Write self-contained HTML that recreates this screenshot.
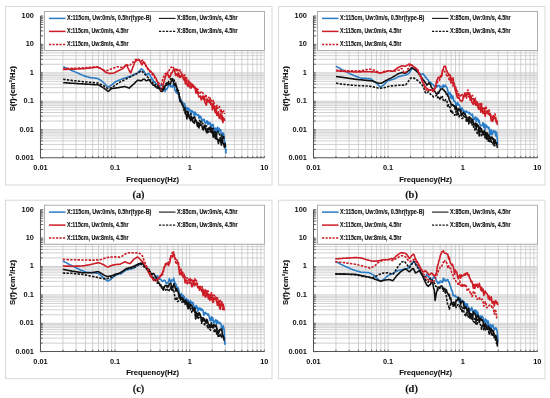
<!DOCTYPE html>
<html><head><meta charset="utf-8"><style>
html,body{margin:0;padding:0;background:#fff;}
svg{display:block;}
text{font-family:"Liberation Sans", Arial, sans-serif;fill:#111;stroke:#111;stroke-width:0.12px;}
.cap{font-family:"Liberation Serif", "Times New Roman", serif;}
</style></head><body>
<svg width="550" height="398" viewBox="0 0 550 398">
<g transform="translate(0,0)">
<rect x="5.5" y="6.5" width="266.5" height="178.5" fill="#fff" stroke="#d9d9d9" stroke-width="1"/>
<path d="M62.96 16.00V158.00M76.09 16.00V158.00M85.41 16.00V158.00M92.64 16.00V158.00M98.55 16.00V158.00M103.54 16.00V158.00M107.87 16.00V158.00M111.69 16.00V158.00M115.10 16.00V158.00M137.56 16.00V158.00M150.69 16.00V158.00M160.01 16.00V158.00M167.24 16.00V158.00M173.15 16.00V158.00M178.14 16.00V158.00M182.47 16.00V158.00M186.29 16.00V158.00M189.70 16.00V158.00M212.16 16.00V158.00M225.29 16.00V158.00M234.61 16.00V158.00M241.84 16.00V158.00M247.75 16.00V158.00M252.74 16.00V158.00M257.07 16.00V158.00M260.89 16.00V158.00M40.50 149.45H264.30M40.50 144.45H264.30M40.50 140.90H264.30M40.50 138.15H264.30M40.50 135.90H264.30M40.50 134.00H264.30M40.50 132.35H264.30M40.50 130.90H264.30M40.50 129.60H264.30M40.50 121.05H264.30M40.50 116.05H264.30M40.50 112.50H264.30M40.50 109.75H264.30M40.50 107.50H264.30M40.50 105.60H264.30M40.50 103.95H264.30M40.50 102.50H264.30M40.50 101.20H264.30M40.50 92.65H264.30M40.50 87.65H264.30M40.50 84.10H264.30M40.50 81.35H264.30M40.50 79.10H264.30M40.50 77.20H264.30M40.50 75.55H264.30M40.50 74.10H264.30M40.50 72.80H264.30M40.50 64.25H264.30M40.50 59.25H264.30M40.50 55.70H264.30M40.50 52.95H264.30M40.50 50.70H264.30M40.50 48.80H264.30M40.50 47.15H264.30M40.50 45.70H264.30M40.50 44.40H264.30M40.50 35.85H264.30M40.50 30.85H264.30M40.50 27.30H264.30M40.50 24.55H264.30M40.50 22.30H264.30M40.50 20.40H264.30M40.50 18.75H264.30M40.50 17.30H264.30M40.50 16.00H264.30M264.30 16.00V158.00" stroke="#cccccc" stroke-width="0.9" fill="none"/>
<path d="M40.50 158.00v-2M62.96 158.00v-2M76.09 158.00v-2M85.41 158.00v-2M92.64 158.00v-2M98.55 158.00v-2M103.54 158.00v-2M107.87 158.00v-2M111.69 158.00v-2M115.10 158.00v-2M137.56 158.00v-2M150.69 158.00v-2M160.01 158.00v-2M167.24 158.00v-2M173.15 158.00v-2M178.14 158.00v-2M182.47 158.00v-2M186.29 158.00v-2M189.70 158.00v-2M212.16 158.00v-2M225.29 158.00v-2M234.61 158.00v-2M241.84 158.00v-2M247.75 158.00v-2M252.74 158.00v-2M257.07 158.00v-2M260.89 158.00v-2M264.30 158.00v-2M40.50 158.00h2.2M40.50 149.45h2.2M40.50 144.45h2.2M40.50 140.90h2.2M40.50 138.15h2.2M40.50 135.90h2.2M40.50 134.00h2.2M40.50 132.35h2.2M40.50 130.90h2.2M40.50 129.60h2.2M40.50 121.05h2.2M40.50 116.05h2.2M40.50 112.50h2.2M40.50 109.75h2.2M40.50 107.50h2.2M40.50 105.60h2.2M40.50 103.95h2.2M40.50 102.50h2.2M40.50 101.20h2.2M40.50 92.65h2.2M40.50 87.65h2.2M40.50 84.10h2.2M40.50 81.35h2.2M40.50 79.10h2.2M40.50 77.20h2.2M40.50 75.55h2.2M40.50 74.10h2.2M40.50 72.80h2.2M40.50 64.25h2.2M40.50 59.25h2.2M40.50 55.70h2.2M40.50 52.95h2.2M40.50 50.70h2.2M40.50 48.80h2.2M40.50 47.15h2.2M40.50 45.70h2.2M40.50 44.40h2.2M40.50 35.85h2.2M40.50 30.85h2.2M40.50 27.30h2.2M40.50 24.55h2.2M40.50 22.30h2.2M40.50 20.40h2.2M40.50 18.75h2.2M40.50 17.30h2.2M40.50 16.00h2.2" stroke="#505050" stroke-width="0.9" fill="none"/>
<path d="M40.50 16.00V157.70H264.30" stroke="#555" stroke-width="1.05" fill="none" stroke-linejoin="round"/>
<path d="M63.2 66.9 64.0 67.0 64.7 67.4 65.5 67.7 66.2 68.1 67.0 68.4 67.7 68.8 68.5 69.1 69.2 69.5 70.0 69.8 70.7 70.1 71.5 70.4 72.2 70.7 73.0 71.0 73.7 71.3 74.5 71.6 75.2 71.9 76.0 72.2 76.7 72.5 77.5 72.8 78.2 73.2 79.0 73.5 79.7 73.9 80.5 74.2 81.2 74.5 82.0 74.9 82.7 75.2 83.5 75.6 84.2 75.9 85.0 76.1 85.7 76.4 86.5 76.6 87.2 76.8 88.0 77.0 88.7 77.2 89.5 77.5 90.2 77.6 91.0 77.7 91.7 77.8 92.5 77.9 93.2 78.0 94.0 78.0 94.7 78.1 95.5 78.2 96.2 78.3 97.0 78.4 97.7 78.6 98.5 79.0 99.2 79.4 100.0 79.7 100.7 80.3 101.5 80.9 102.2 81.6 103.0 82.2 103.7 82.8 104.5 83.5 105.2 84.2 106.0 85.0 106.7 85.7 107.5 86.5 108.2 87.0 109.0 86.6 109.7 86.1 110.5 85.7 111.2 85.2 112.0 84.7 112.7 84.1 113.5 83.5 114.2 82.9 115.0 82.2 115.7 81.6 116.5 81.2 117.2 80.9 118.0 80.6 118.7 80.3 119.5 80.0 120.2 79.7 121.0 79.4 121.7 79.1 122.5 78.8 123.2 78.5 124.0 78.2 124.7 78.0 125.5 77.8 126.2 77.5 127.0 77.3 127.7 77.1 128.4 76.9 129.2 76.6 129.9 76.4 130.7 76.2 131.4 75.8 132.2 75.4 132.9 75.0 133.7 74.7 134.4 74.3 135.2 74.0 135.9 73.8 136.7 73.5 137.4 73.3 138.2 72.5 138.9 71.6 139.7 70.7 140.4 69.8 141.2 68.9 141.9 69.3 142.7 69.9 143.4 70.4 144.2 71.4 144.9 72.6 145.7 73.9 146.4 75.1 147.2 74.5 147.9 73.9 148.7 73.4 149.4 74.2 150.2 75.2 150.9 77.2 151.7 78.2 152.4 79.7 153.2 80.0 153.9 81.9 154.7 81.9 155.4 82.8 156.2 84.1 156.9 84.4 157.7 84.8 158.4 86.7 159.2 85.8 159.9 85.1 160.7 85.5 161.4 84.5 162.2 85.0 162.9 87.5 163.7 89.2 164.4 90.3 165.2 91.4 165.9 88.9 166.7 89.2 167.4 88.2 168.2 86.0 168.9 83.6 169.7 84.1 170.4 86.8 171.2 85.9 171.9 86.2 172.7 87.2 173.4 83.7 174.2 84.7 174.9 90.2 175.7 91.3 176.4 92.9 177.2 91.5 177.9 94.1 178.7 94.2 179.4 98.5 180.2 101.0 180.9 99.3 181.7 103.1 182.4 101.5 183.2 103.8 183.9 104.8 184.7 103.6 185.4 108.1 186.2 109.4 186.9 107.3 187.7 110.5 188.4 108.2 189.2 108.8 189.9 111.0 190.7 110.0 191.4 114.2 192.2 110.9 192.9 111.9 193.7 112.1 194.4 117.1 195.2 112.0 195.9 114.6 196.7 114.1 197.4 115.1 198.2 114.6 198.9 118.4 199.7 115.6 200.4 117.8 201.2 117.0 201.9 121.2 202.7 120.8 203.4 119.5 204.2 119.3 204.9 122.5 205.7 123.5 206.4 121.5 207.2 120.8 207.9 124.6 208.7 122.1 209.4 123.9 210.2 122.9 210.9 128.3 211.7 124.5 212.4 126.0 213.2 124.4 213.9 130.6 214.7 129.3 215.4 128.2 216.2 132.3 216.9 128.3 217.7 127.1 218.4 133.5 219.2 128.4 219.9 131.0 220.7 129.6 221.4 134.6 222.2 136.3 222.9 132.7 223.7 133.7 224.4 141.4 225.2 145.5 225.9 153.1 226.0 149.0" stroke="#2b7cc6" stroke-width="1.6" fill="none" stroke-linejoin="round"/>
<path d="M63.2 82.7 64.0 82.7 64.7 82.8 65.5 82.8 66.2 82.9 67.0 82.9 67.7 83.0 68.5 83.0 69.2 83.1 70.0 83.1 70.7 83.2 71.5 83.2 72.2 83.3 73.0 83.3 73.7 83.3 74.5 83.4 75.2 83.4 76.0 83.5 76.7 83.5 77.5 83.6 78.2 83.6 79.0 83.7 79.7 83.7 80.5 83.8 81.2 83.8 82.0 83.9 82.7 83.9 83.5 84.0 84.2 84.0 85.0 84.0 85.7 84.1 86.5 84.1 87.2 84.2 88.0 84.2 88.7 84.3 89.5 84.3 90.2 84.4 91.0 84.4 91.7 84.5 92.5 84.5 93.2 84.6 94.0 84.6 94.7 84.7 95.5 84.7 96.2 84.8 97.0 84.8 97.7 84.8 98.5 84.9 99.2 85.3 100.0 85.7 100.7 86.2 101.5 86.6 102.2 87.1 103.0 87.6 103.7 88.0 104.5 88.5 105.2 89.1 106.0 89.7 106.7 90.3 107.5 91.0 108.2 91.4 109.0 90.8 109.7 90.2 110.5 89.5 111.2 88.9 112.0 88.5 112.7 88.4 113.5 88.3 114.2 88.2 115.0 88.1 115.7 88.0 116.5 87.9 117.2 87.8 118.0 87.7 118.7 87.6 119.5 87.4 120.2 87.3 121.0 87.1 121.7 87.0 122.5 86.9 123.2 86.7 124.0 86.6 124.7 86.4 125.5 86.7 126.2 86.9 127.0 87.2 127.7 87.5 128.4 87.8 129.2 88.1 129.9 87.4 130.7 86.7 131.4 86.1 132.2 85.4 132.9 84.7 133.7 84.1 134.4 83.4 135.2 82.6 135.9 81.8 136.7 81.1 137.4 80.3 138.2 80.2 138.9 80.4 139.7 80.5 140.4 80.6 141.2 80.8 141.9 80.3 142.7 79.7 143.4 79.2 144.2 79.2 144.9 79.7 145.7 80.3 146.4 80.8 147.2 80.4 147.9 80.0 148.7 79.6 149.4 80.3 150.2 81.2 150.9 82.5 151.7 83.3 152.4 84.1 153.2 85.2 153.9 85.3 154.7 85.8 155.4 86.6 156.2 86.7 156.9 88.0 157.7 87.8 158.4 88.5 159.2 88.6 159.9 89.3 160.7 91.1 161.4 91.2 162.2 91.5 162.9 90.9 163.7 89.0 164.4 88.5 165.2 85.7 165.9 85.1 166.7 85.2 167.4 82.9 168.2 84.3 168.9 83.4 169.7 83.6 170.4 84.1 171.2 81.1 171.9 79.9 172.7 80.1 173.4 81.9 174.2 85.0 174.9 84.0 175.7 84.1 176.4 87.1 177.2 88.5 177.9 92.0 178.7 92.7 179.4 96.6 180.2 101.7 180.9 101.8 181.7 103.0 182.4 105.4 183.2 105.9 183.9 107.6 184.7 108.4 185.4 113.7 186.2 114.8 186.9 118.9 187.7 112.0 188.4 114.6 189.2 117.8 189.9 118.3 190.7 120.7 191.4 117.9 192.2 117.5 192.9 121.8 193.7 122.7 194.4 123.2 195.2 118.9 195.9 121.4 196.7 121.4 197.4 126.5 198.2 122.5 198.9 128.0 199.7 123.4 200.4 125.4 201.2 124.9 201.9 125.7 202.7 129.4 203.4 130.0 204.2 126.0 204.9 127.3 205.7 129.6 206.4 132.1 207.2 132.8 207.9 129.1 208.7 128.1 209.4 129.7 210.2 128.3 210.9 131.2 211.7 130.0 212.4 131.4 213.2 137.2 213.9 133.3 214.7 135.7 215.4 138.7 216.2 132.8 216.9 139.5 217.7 139.4 218.4 143.5 219.2 139.2 219.9 140.0 220.7 141.5 221.4 145.2 222.2 137.1 222.9 142.9 223.7 144.4 224.4 147.4 225.2 143.3 225.5 147.0" stroke="#111111" stroke-width="1.6" fill="none" stroke-linejoin="round"/>
<path d="M63.2 69.5 64.0 69.5 64.7 69.4 65.5 69.4 66.2 69.4 67.0 69.4 67.7 69.3 68.5 69.3 69.2 69.3 70.0 69.3 70.7 69.2 71.5 69.2 72.2 69.2 73.0 69.1 73.7 69.1 74.5 69.1 75.2 69.1 76.0 69.0 76.7 69.0 77.5 69.0 78.2 68.9 79.0 68.9 79.7 68.9 80.5 68.9 81.2 68.8 82.0 68.8 82.7 68.7 83.5 68.6 84.2 68.6 85.0 68.5 85.7 68.4 86.5 68.3 87.2 68.3 88.0 68.2 88.7 68.1 89.5 68.0 90.2 67.9 91.0 67.9 91.7 67.8 92.5 67.7 93.2 67.6 94.0 67.5 94.7 67.5 95.5 67.4 96.2 67.3 97.0 67.2 97.7 67.4 98.5 67.6 99.2 67.9 100.0 68.1 100.7 68.4 101.5 68.9 102.2 69.5 103.0 70.1 103.7 70.7 104.5 71.3 105.2 71.9 106.0 72.5 106.7 72.7 107.5 72.9 108.2 73.1 109.0 73.2 109.7 73.4 110.5 73.4 111.2 73.3 112.0 73.3 112.7 73.2 113.5 73.1 114.2 72.9 115.0 72.5 115.7 72.1 116.5 71.7 117.2 71.3 118.0 70.9 118.7 70.6 119.5 70.2 120.2 69.8 121.0 69.4 121.7 69.1 122.5 68.7 123.2 68.3 124.0 67.5 124.7 66.5 125.5 65.6 126.2 64.6 127.0 65.8 127.7 67.3 128.4 68.8 129.2 70.4 129.9 71.9 130.7 73.0 131.4 71.1 132.2 69.1 132.9 67.1 133.7 65.1 134.4 63.1 135.2 61.5 135.9 61.0 136.7 60.5 137.4 60.1 138.2 59.8 138.9 59.6 139.7 60.5 140.4 62.0 141.2 63.5 141.9 64.9 142.7 63.3 143.4 61.7 144.2 62.5 144.9 63.5 145.7 65.0 146.4 66.4 147.2 67.6 147.9 68.5 148.7 69.5 149.4 70.4 150.2 70.9 150.9 71.6 151.7 72.5 152.4 73.3 153.2 73.7 153.9 74.9 154.7 76.5 155.4 77.7 156.2 78.5 156.9 81.0 157.7 82.4 158.4 85.5 159.2 85.8 159.9 88.1 160.7 89.6 161.4 89.9 162.2 88.3 162.9 86.4 163.7 82.8 164.4 80.6 165.2 77.6 165.9 75.4 166.7 73.4 167.4 74.6 168.2 74.7 168.9 77.6 169.7 75.9 170.4 76.3 171.2 72.7 171.9 73.1 172.7 71.2 173.4 69.9 174.2 69.5 174.9 71.9 175.7 75.5 176.4 75.2 177.2 73.5 177.9 76.2 178.7 73.4 179.4 77.3 180.2 77.4 180.9 75.5 181.7 75.2 182.4 77.2 183.2 77.9 183.9 80.0 184.7 79.2 185.4 83.9 186.2 80.3 186.9 84.4 187.7 86.1 188.4 83.2 189.2 86.6 189.9 87.3 190.7 88.1 191.4 85.5 192.2 85.3 192.9 87.0 193.7 85.9 194.4 88.0 195.2 87.5 195.9 92.9 196.7 88.6 197.4 91.4 198.2 94.8 198.9 96.9 199.7 97.0 200.4 95.9 201.2 99.9 201.9 97.0 202.7 96.0 203.4 99.6 204.2 97.0 204.9 101.9 205.7 103.9 206.4 105.2 207.2 99.0 207.9 101.8 208.7 100.3 209.4 102.8 210.2 101.7 210.9 104.5 211.7 103.5 212.4 109.8 213.2 103.8 213.9 106.4 214.7 110.5 215.4 112.9 216.2 107.2 216.9 115.5 217.7 114.9 218.4 111.7 219.2 118.4 219.9 117.7 220.7 113.4 221.4 119.6 222.2 115.6 222.9 122.6 223.7 117.8 224.4 119.6 224.5 121.0" stroke="#cc1c26" stroke-width="1.6" fill="none" stroke-linejoin="round"/>
<path d="M63.2 79.3 64.0 79.4 64.7 79.5 65.5 79.6 66.2 79.7 67.0 79.8 67.7 79.9 68.5 80.0 69.2 80.1 70.0 80.2 70.7 80.3 71.5 80.4 72.2 80.5 73.0 80.6 73.7 80.7 74.5 80.7 75.2 80.8 76.0 80.9 76.7 81.0 77.5 81.1 78.2 81.1 79.0 81.2 79.7 81.3 80.5 81.4 81.2 81.5 82.0 81.5 82.7 81.6 83.5 81.7 84.2 81.8 85.0 81.8 85.7 81.9 86.5 82.0 87.2 82.0 88.0 82.1 88.7 82.2 89.5 82.3 90.2 82.3 91.0 82.4 91.7 82.5 92.5 82.6 93.2 82.6 94.0 82.7 94.7 82.8 95.5 82.9 96.2 83.0 97.0 83.0 97.7 83.1 98.5 83.2 99.2 83.6 100.0 84.0 100.7 84.3 101.5 84.7 102.2 85.1 103.0 85.5 103.7 85.8 104.5 86.3 105.2 86.8 106.0 87.2 106.7 87.7 107.5 88.2 108.2 88.6 109.0 88.7 109.7 88.3 110.5 88.0 111.2 87.6 112.0 87.2 112.7 86.8 113.5 86.4 114.2 85.9 115.0 85.4 115.7 84.9 116.5 84.4 117.2 83.9 118.0 83.4 118.7 82.9 119.5 82.4 120.2 81.9 121.0 81.5 121.7 81.2 122.5 80.8 123.2 80.4 124.0 80.1 124.7 79.7 125.5 79.3 126.2 78.9 127.0 78.6 127.7 78.2 128.4 77.8 129.2 77.4 129.9 77.1 130.7 76.7 131.4 76.3 132.2 75.9 132.9 75.5 133.7 75.2 134.4 74.8 135.2 74.4 135.9 74.0 136.7 73.7 137.4 73.3 138.2 72.9 138.9 72.5 139.7 71.9 140.4 71.3 141.2 70.8 141.9 71.3 142.7 72.1 143.4 72.8 144.2 73.6 144.9 74.3 145.7 75.1 146.4 75.8 147.2 76.6 147.9 77.3 148.7 78.1 149.4 78.9 150.2 80.0 150.9 80.5 151.7 81.1 152.4 82.1 153.2 83.4 153.9 83.4 154.7 83.7 155.4 85.1 156.2 85.6 156.9 85.4 157.7 85.6 158.4 87.3 159.2 86.5 159.9 88.4 160.7 87.7 161.4 88.7 162.2 89.3 162.9 89.4 163.7 88.6 164.4 86.3 165.2 84.6 165.9 83.9 166.7 82.6 167.4 82.2 168.2 82.6 168.9 81.2 169.7 80.4 170.4 79.4 171.2 77.7 171.9 78.7 172.7 78.9 173.4 80.9 174.2 80.0 174.9 85.7 175.7 83.0 176.4 86.2 177.2 91.7 177.9 90.2 178.7 90.9 179.4 96.5 180.2 100.2 180.9 101.7 181.7 101.9 182.4 104.2 183.2 105.3 183.9 110.4 184.7 107.6 185.4 114.0 186.2 109.9 186.9 115.6 187.7 110.5 188.4 112.7 189.2 116.0 189.9 118.6 190.7 113.5 191.4 117.9 192.2 120.5 192.9 120.7 193.7 116.1 194.4 117.7 195.2 117.8 195.9 121.0 196.7 121.9 197.4 125.0 198.2 125.3 198.9 121.9 199.7 120.3 200.4 123.0 201.2 121.6 201.9 123.7 202.7 123.2 203.4 124.5 204.2 127.3 204.9 125.1 205.7 129.7 206.4 125.9 207.2 129.7 207.9 131.5 208.7 132.1 209.4 130.0 210.2 126.2 210.9 132.2 211.7 127.3 212.4 134.2 213.2 128.4 213.9 131.3 214.7 135.9 215.4 131.8 216.2 136.2 216.9 132.5 217.7 131.2 218.4 133.1 219.2 133.2 219.9 135.1 220.7 140.6 221.4 136.1 222.2 134.9 222.9 138.4 223.7 136.7 224.0 139.5" stroke="#111111" stroke-width="1.6" fill="none" stroke-linejoin="round" stroke-dasharray="2.4 1.3"/>
<path d="M63.2 69.1 64.0 68.6 64.7 68.6 65.5 68.5 66.2 68.5 67.0 68.5 67.7 68.5 68.5 68.4 69.2 68.4 70.0 68.4 70.7 68.4 71.5 68.3 72.2 68.3 73.0 68.3 73.7 68.3 74.5 68.2 75.2 68.2 76.0 68.2 76.7 68.2 77.5 68.1 78.2 68.1 79.0 68.1 79.7 68.1 80.5 68.0 81.2 68.0 82.0 68.0 82.7 67.9 83.5 67.9 84.2 67.8 85.0 67.7 85.7 67.7 86.5 67.6 87.2 67.6 88.0 67.5 88.7 67.4 89.5 67.4 90.2 67.3 91.0 67.2 91.7 67.2 92.5 67.1 93.2 67.0 94.0 67.0 94.7 66.9 95.5 66.8 96.2 66.8 97.0 66.7 97.7 67.0 98.5 67.3 99.2 67.7 100.0 68.1 100.7 68.5 101.5 68.8 102.2 69.2 103.0 69.6 103.7 70.0 104.5 70.4 105.2 70.7 106.0 71.1 106.7 70.8 107.5 70.5 108.2 70.2 109.0 69.9 109.7 69.6 110.5 69.3 111.2 69.0 112.0 68.7 112.7 68.4 113.5 68.1 114.2 67.9 115.0 67.6 115.7 67.3 116.5 67.1 117.2 66.8 118.0 66.8 118.7 66.9 119.5 67.0 120.2 67.1 121.0 67.2 121.7 67.3 122.5 67.4 123.2 67.5 124.0 66.9 124.7 66.2 125.5 65.4 126.2 64.6 127.0 64.8 127.7 65.2 128.4 65.6 129.2 66.0 129.9 65.2 130.7 64.5 131.4 63.8 132.2 63.0 132.9 62.3 133.7 61.5 134.4 60.8 135.2 60.0 135.9 59.4 136.7 59.2 137.4 58.9 138.2 59.2 138.9 59.9 139.7 60.7 140.4 61.4 141.2 61.2 141.9 60.7 142.7 60.2 143.4 61.5 144.2 62.9 144.9 64.2 145.7 65.5 146.4 66.8 147.2 68.1 147.9 69.5 148.7 70.4 149.4 71.2 150.2 71.7 150.9 72.6 151.7 73.8 152.4 74.5 153.2 75.1 153.9 76.4 154.7 77.4 155.4 79.2 156.2 79.6 156.9 80.8 157.7 82.3 158.4 83.1 159.2 83.2 159.9 84.2 160.7 84.3 161.4 84.4 162.2 81.3 162.9 78.8 163.7 76.9 164.4 75.5 165.2 73.6 165.9 73.5 166.7 74.0 167.4 74.1 168.2 71.0 168.9 71.4 169.7 68.7 170.4 68.4 171.2 67.1 171.9 67.3 172.7 66.5 173.4 67.6 174.2 70.6 174.9 68.5 175.7 68.0 176.4 71.7 177.2 68.3 177.9 70.2 178.7 73.8 179.4 70.7 180.2 69.8 180.9 72.3 181.7 75.2 182.4 73.1 183.2 78.0 183.9 78.9 184.7 74.9 185.4 80.6 186.2 77.1 186.9 78.8 187.7 78.6 188.4 83.8 189.2 80.7 189.9 86.3 190.7 81.7 191.4 87.8 192.2 83.1 192.9 85.3 193.7 85.6 194.4 87.8 195.2 87.0 195.9 92.9 196.7 92.7 197.4 89.3 198.2 89.7 198.9 94.0 199.7 93.7 200.4 92.6 201.2 92.0 201.9 93.2 202.7 92.7 203.4 94.5 204.2 99.4 204.9 99.8 205.7 94.3 206.4 97.0 207.2 100.9 207.9 102.1 208.7 97.2 209.4 101.7 210.2 98.0 210.9 99.9 211.7 104.5 212.4 103.3 213.2 100.3 213.9 102.0 214.7 107.4 215.4 107.9 216.2 106.8 216.9 105.3 217.7 108.3 218.4 106.9 219.2 106.4 219.9 108.1 220.7 112.5 221.4 109.7 222.2 113.4 222.9 111.9 223.7 110.9 224.4 113.3 224.5 114.0" stroke="#cc1c26" stroke-width="1.6" fill="none" stroke-linejoin="round" stroke-dasharray="2.4 1.3"/>
<rect x="44.5" y="11.5" width="220" height="39" fill="#fff" stroke="#a6a6a6" stroke-width="0.9"/>
<path d="M49 18.4h16.5" stroke="#2b7cc6" stroke-width="1.5"/>
<text x="67.1" y="20.299999999999997" font-size="6.4" font-weight="bold" textLength="84.3" lengthAdjust="spacingAndGlyphs">X:115cm, Uw:0m/s, 0.5hr(type-B)</text>
<path d="M49 31.4h16.5" stroke="#cc1c26" stroke-width="1.5"/>
<text x="67.1" y="33.3" font-size="6.4" font-weight="bold" textLength="61.5" lengthAdjust="spacingAndGlyphs">X:115cm, Uw:0m/s, 4.5hr</text>
<path d="M49 44.4h16.5" stroke="#cc1c26" stroke-width="1.5" stroke-dasharray="2.2 1.3"/>
<text x="67.1" y="46.3" font-size="6.4" font-weight="bold" textLength="61.5" lengthAdjust="spacingAndGlyphs">X:115cm, Uw:8m/s, 4.5hr</text>
<path d="M159 18.4h16.5" stroke="#111" stroke-width="1.1"/>
<text x="177.1" y="20.299999999999997" font-size="6.4" font-weight="bold" textLength="60.6" lengthAdjust="spacingAndGlyphs">X:85cm, Uw:0m/s, 4.5hr</text>
<path d="M159 31.4h16.5" stroke="#111" stroke-width="1.1" stroke-dasharray="2.2 1.3"/>
<text x="177.1" y="33.3" font-size="6.4" font-weight="bold" textLength="60.6" lengthAdjust="spacingAndGlyphs">X:85cm, Uw:8m/s, 4.5hr</text>
<text x="33.9" y="160.00" font-size="7.4" font-weight="bold" style="stroke:none" text-anchor="end">0.001</text>
<text x="33.9" y="131.60" font-size="7.4" font-weight="bold" style="stroke:none" text-anchor="end">0.01</text>
<text x="33.9" y="103.20" font-size="7.4" font-weight="bold" style="stroke:none" text-anchor="end">0.1</text>
<text x="33.9" y="74.80" font-size="7.4" font-weight="bold" style="stroke:none" text-anchor="end">1</text>
<text x="33.9" y="46.40" font-size="7.4" font-weight="bold" style="stroke:none" text-anchor="end">10</text>
<text x="33.9" y="18.00" font-size="7.4" font-weight="bold" style="stroke:none" text-anchor="end">100</text>
<text x="40.50" y="170.4" font-size="7.4" font-weight="bold" style="stroke:none" text-anchor="middle">0.01</text>
<text x="115.10" y="170.4" font-size="7.4" font-weight="bold" style="stroke:none" text-anchor="middle">0.1</text>
<text x="189.70" y="170.4" font-size="7.4" font-weight="bold" style="stroke:none" text-anchor="middle">1</text>
<text x="264.30" y="170.4" font-size="7.4" font-weight="bold" style="stroke:none" text-anchor="middle">10</text>
<text x="152.6" y="181.5" font-size="7.9" font-weight="bold" text-anchor="middle" textLength="52.8" lengthAdjust="spacingAndGlyphs">Frequency(Hz)</text>
<text transform="translate(15,88.7) rotate(-90)" font-size="7.6" font-weight="bold" text-anchor="middle" textLength="45" lengthAdjust="spacingAndGlyphs">S(f)·(cm²/Hz)</text>
<text class="cap" x="138.5" y="198.2" font-size="10.4" font-weight="bold" text-anchor="middle">(a)</text>
</g>
<g transform="translate(273.0,0)">
<rect x="5.5" y="6.5" width="266.5" height="178.5" fill="#fff" stroke="#d9d9d9" stroke-width="1"/>
<path d="M62.96 16.00V158.00M76.09 16.00V158.00M85.41 16.00V158.00M92.64 16.00V158.00M98.55 16.00V158.00M103.54 16.00V158.00M107.87 16.00V158.00M111.69 16.00V158.00M115.10 16.00V158.00M137.56 16.00V158.00M150.69 16.00V158.00M160.01 16.00V158.00M167.24 16.00V158.00M173.15 16.00V158.00M178.14 16.00V158.00M182.47 16.00V158.00M186.29 16.00V158.00M189.70 16.00V158.00M212.16 16.00V158.00M225.29 16.00V158.00M234.61 16.00V158.00M241.84 16.00V158.00M247.75 16.00V158.00M252.74 16.00V158.00M257.07 16.00V158.00M260.89 16.00V158.00M40.50 149.45H264.30M40.50 144.45H264.30M40.50 140.90H264.30M40.50 138.15H264.30M40.50 135.90H264.30M40.50 134.00H264.30M40.50 132.35H264.30M40.50 130.90H264.30M40.50 129.60H264.30M40.50 121.05H264.30M40.50 116.05H264.30M40.50 112.50H264.30M40.50 109.75H264.30M40.50 107.50H264.30M40.50 105.60H264.30M40.50 103.95H264.30M40.50 102.50H264.30M40.50 101.20H264.30M40.50 92.65H264.30M40.50 87.65H264.30M40.50 84.10H264.30M40.50 81.35H264.30M40.50 79.10H264.30M40.50 77.20H264.30M40.50 75.55H264.30M40.50 74.10H264.30M40.50 72.80H264.30M40.50 64.25H264.30M40.50 59.25H264.30M40.50 55.70H264.30M40.50 52.95H264.30M40.50 50.70H264.30M40.50 48.80H264.30M40.50 47.15H264.30M40.50 45.70H264.30M40.50 44.40H264.30M40.50 35.85H264.30M40.50 30.85H264.30M40.50 27.30H264.30M40.50 24.55H264.30M40.50 22.30H264.30M40.50 20.40H264.30M40.50 18.75H264.30M40.50 17.30H264.30M40.50 16.00H264.30M264.30 16.00V158.00" stroke="#cccccc" stroke-width="0.9" fill="none"/>
<path d="M40.50 158.00v-2M62.96 158.00v-2M76.09 158.00v-2M85.41 158.00v-2M92.64 158.00v-2M98.55 158.00v-2M103.54 158.00v-2M107.87 158.00v-2M111.69 158.00v-2M115.10 158.00v-2M137.56 158.00v-2M150.69 158.00v-2M160.01 158.00v-2M167.24 158.00v-2M173.15 158.00v-2M178.14 158.00v-2M182.47 158.00v-2M186.29 158.00v-2M189.70 158.00v-2M212.16 158.00v-2M225.29 158.00v-2M234.61 158.00v-2M241.84 158.00v-2M247.75 158.00v-2M252.74 158.00v-2M257.07 158.00v-2M260.89 158.00v-2M264.30 158.00v-2M40.50 158.00h2.2M40.50 149.45h2.2M40.50 144.45h2.2M40.50 140.90h2.2M40.50 138.15h2.2M40.50 135.90h2.2M40.50 134.00h2.2M40.50 132.35h2.2M40.50 130.90h2.2M40.50 129.60h2.2M40.50 121.05h2.2M40.50 116.05h2.2M40.50 112.50h2.2M40.50 109.75h2.2M40.50 107.50h2.2M40.50 105.60h2.2M40.50 103.95h2.2M40.50 102.50h2.2M40.50 101.20h2.2M40.50 92.65h2.2M40.50 87.65h2.2M40.50 84.10h2.2M40.50 81.35h2.2M40.50 79.10h2.2M40.50 77.20h2.2M40.50 75.55h2.2M40.50 74.10h2.2M40.50 72.80h2.2M40.50 64.25h2.2M40.50 59.25h2.2M40.50 55.70h2.2M40.50 52.95h2.2M40.50 50.70h2.2M40.50 48.80h2.2M40.50 47.15h2.2M40.50 45.70h2.2M40.50 44.40h2.2M40.50 35.85h2.2M40.50 30.85h2.2M40.50 27.30h2.2M40.50 24.55h2.2M40.50 22.30h2.2M40.50 20.40h2.2M40.50 18.75h2.2M40.50 17.30h2.2M40.50 16.00h2.2" stroke="#505050" stroke-width="0.9" fill="none"/>
<path d="M40.50 16.00V157.70H264.30" stroke="#555" stroke-width="1.05" fill="none" stroke-linejoin="round"/>
<path d="M63.0 66.3 63.8 66.7 64.5 67.1 65.2 67.5 66.0 67.9 66.8 68.3 67.5 68.7 68.2 69.1 69.0 69.6 69.8 70.0 70.5 70.4 71.2 70.8 72.0 71.2 72.8 71.5 73.5 71.9 74.2 72.3 75.0 72.7 75.8 73.0 76.5 73.4 77.2 73.8 78.0 74.2 78.8 74.5 79.5 74.9 80.2 75.3 81.0 75.6 81.8 75.8 82.5 76.1 83.2 76.4 84.0 76.7 84.8 76.9 85.5 77.2 86.2 77.5 87.0 77.8 87.8 78.0 88.5 78.2 89.2 78.3 90.0 78.3 90.8 78.3 91.5 78.4 92.2 78.4 93.0 78.5 93.8 78.5 94.5 78.5 95.2 78.6 96.0 78.6 96.8 78.7 97.5 78.8 98.2 79.3 99.0 79.8 99.8 80.4 100.5 80.9 101.2 81.5 102.0 82.1 102.8 82.7 103.5 83.3 104.2 84.0 105.0 84.7 105.8 85.5 106.5 86.2 107.2 87.0 108.0 86.9 108.8 86.3 109.5 85.8 110.2 85.3 111.0 84.7 111.8 83.8 112.5 83.0 113.2 82.1 114.0 81.2 114.8 80.8 115.5 80.6 116.2 80.4 117.0 80.2 117.8 79.9 118.5 79.7 119.2 79.5 120.0 79.5 120.8 79.1 121.5 78.7 122.2 78.4 123.0 78.0 123.8 77.6 124.5 77.2 125.2 76.8 126.0 76.5 126.8 76.2 127.5 76.1 128.2 75.9 129.0 75.8 129.8 75.6 130.5 75.5 131.2 75.3 132.0 75.2 132.8 75.0 133.5 74.6 134.2 74.2 135.0 73.9 135.8 73.5 136.5 72.8 137.2 71.5 138.0 70.2 138.8 68.9 139.5 68.6 140.2 68.5 141.0 68.3 141.8 68.6 142.5 69.4 143.2 70.2 144.0 70.9 144.8 71.7 145.5 72.4 146.2 73.2 147.0 73.9 147.8 74.5 148.5 74.2 149.2 74.0 150.0 73.7 150.8 75.0 151.5 75.4 152.2 77.2 153.0 77.4 153.8 78.9 154.5 79.3 155.2 80.2 156.0 81.7 156.8 82.1 157.5 82.2 158.2 83.0 159.0 84.2 159.8 84.5 160.5 84.9 161.2 86.2 162.0 86.5 162.8 87.3 163.5 87.5 164.2 85.8 165.0 86.0 165.8 85.5 166.5 85.6 167.2 88.5 168.0 86.7 168.8 86.4 169.5 87.0 170.2 85.1 171.0 87.1 171.8 85.8 172.5 85.2 173.2 86.9 174.0 87.5 174.8 90.3 175.5 94.7 176.2 93.1 177.0 92.4 177.8 98.2 178.5 94.8 179.2 98.8 180.0 96.0 180.8 101.0 181.5 101.2 182.2 101.7 183.0 105.6 183.8 104.9 184.5 102.5 185.2 104.9 186.0 104.6 186.8 106.2 187.5 110.4 188.2 111.6 189.0 107.9 189.8 109.6 190.5 112.4 191.2 110.9 192.0 114.6 192.8 111.4 193.5 111.0 194.2 112.4 195.0 112.2 195.8 113.4 196.5 112.3 197.2 114.3 198.0 114.2 198.8 115.2 199.5 114.1 200.2 119.2 201.0 119.7 201.8 117.8 202.5 116.8 203.2 121.7 204.0 118.0 204.8 118.7 205.5 122.2 206.2 120.3 207.0 124.7 207.8 125.7 208.5 125.7 209.2 125.4 210.0 122.5 210.8 127.4 211.5 124.1 212.2 129.3 213.0 124.8 213.8 127.0 214.5 126.3 215.2 128.3 216.0 127.3 216.8 133.7 217.5 134.5 218.2 129.6 219.0 134.8 219.8 133.4 220.5 130.5 221.2 131.8 222.0 131.2 222.8 136.0 223.5 132.0 224.2 138.0 224.6 145.0" stroke="#2b7cc6" stroke-width="1.6" fill="none" stroke-linejoin="round"/>
<path d="M63.0 76.5 63.8 76.6 64.5 76.7 65.2 76.8 66.0 76.9 66.8 77.0 67.5 77.1 68.2 77.2 69.0 77.3 69.8 77.4 70.5 77.5 71.2 77.6 72.0 77.7 72.8 77.8 73.5 77.9 74.2 78.0 75.0 78.2 75.8 78.3 76.5 78.4 77.2 78.5 78.0 78.6 78.8 78.7 79.5 78.8 80.2 78.9 81.0 79.1 81.8 79.2 82.5 79.3 83.2 79.4 84.0 79.4 84.8 79.5 85.5 79.6 86.2 79.7 87.0 79.7 87.8 79.8 88.5 79.9 89.2 79.9 90.0 80.0 90.8 80.1 91.5 80.2 92.2 80.2 93.0 80.3 93.8 80.4 94.5 80.5 95.2 80.5 96.0 80.6 96.8 80.7 97.5 80.8 98.2 80.9 99.0 80.9 99.8 81.1 100.5 81.4 101.2 81.7 102.0 82.0 102.8 82.3 103.5 82.5 104.2 82.8 105.0 83.1 105.8 83.2 106.5 83.2 107.2 83.2 108.0 83.2 108.8 83.1 109.5 82.6 110.2 82.2 111.0 81.7 111.8 81.2 112.5 80.8 113.2 80.3 114.0 80.0 114.8 79.6 115.5 79.2 116.2 78.8 117.0 78.5 117.8 78.1 118.5 77.7 119.2 77.4 120.0 77.0 120.8 76.5 121.5 76.0 122.2 75.6 123.0 75.1 123.8 74.6 124.5 74.1 125.2 73.7 126.0 73.5 126.8 73.2 127.5 73.0 128.2 72.8 129.0 72.6 129.8 72.8 130.5 72.9 131.2 73.0 132.0 73.1 132.8 73.0 133.5 72.4 134.2 71.8 135.0 71.2 135.8 70.5 136.5 69.9 137.2 69.2 138.0 68.4 138.8 67.7 139.5 68.1 140.2 68.6 141.0 69.2 141.8 69.8 142.5 70.4 143.2 71.0 144.0 71.7 144.8 72.3 145.5 73.2 146.2 74.3 147.0 75.4 147.8 76.5 148.5 77.5 149.2 78.5 150.0 79.9 150.8 80.5 151.5 81.3 152.2 82.5 153.0 83.5 153.8 85.3 154.5 84.3 155.2 84.1 156.0 82.6 156.8 84.0 157.5 84.3 158.2 87.0 159.0 88.1 159.8 88.5 160.5 90.2 161.2 90.6 162.0 91.5 162.8 93.1 163.5 93.8 164.2 94.2 165.0 92.2 165.8 93.1 166.5 90.6 167.2 90.4 168.0 89.0 168.8 88.8 169.5 88.6 170.2 90.0 171.0 90.1 171.8 91.6 172.5 91.6 173.2 93.9 174.0 93.9 174.8 96.2 175.5 96.3 176.2 99.8 177.0 101.1 177.8 103.1 178.5 105.7 179.2 104.6 180.0 104.7 180.8 106.1 181.5 105.8 182.2 109.7 183.0 106.3 183.8 109.1 184.5 113.0 185.2 109.1 186.0 108.8 186.8 110.7 187.5 109.7 188.2 115.4 189.0 114.9 189.8 112.8 190.5 112.3 191.2 113.8 192.0 114.0 192.8 115.4 193.5 118.5 194.2 119.4 195.0 119.6 195.8 120.0 196.5 116.8 197.2 118.2 198.0 118.4 198.8 122.6 199.5 119.5 200.2 121.8 201.0 125.4 201.8 123.9 202.5 123.1 203.2 128.2 204.0 123.9 204.8 126.6 205.5 125.4 206.2 136.0 207.0 127.2 207.8 128.7 208.5 128.8 209.2 132.5 210.0 133.8 210.8 131.8 211.5 130.5 212.2 137.9 213.0 132.3 213.8 139.3 214.5 133.1 215.2 136.2 216.0 135.2 216.8 137.0 217.5 141.0 218.2 137.3 219.0 137.0 219.8 139.3 220.5 138.7 221.2 145.8 222.0 139.7 222.8 143.5 223.5 142.7 224.2 146.9 224.5 148.0" stroke="#111111" stroke-width="1.6" fill="none" stroke-linejoin="round"/>
<path d="M63.0 70.8 63.8 70.9 64.5 70.9 65.2 71.0 66.0 71.0 66.8 71.1 67.5 71.1 68.2 71.2 69.0 71.2 69.8 71.3 70.5 71.3 71.2 71.4 72.0 71.4 72.8 71.5 73.5 71.5 74.2 71.6 75.0 71.6 75.8 71.6 76.5 71.7 77.2 71.7 78.0 71.8 78.8 71.8 79.5 71.8 80.2 71.9 81.0 71.9 81.8 72.0 82.5 72.0 83.2 72.0 84.0 72.0 84.8 71.9 85.5 71.9 86.2 71.9 87.0 71.9 87.8 71.9 88.5 71.8 89.2 71.8 90.0 71.8 90.8 71.8 91.5 71.8 92.2 71.7 93.0 71.7 93.8 71.7 94.5 71.7 95.2 71.8 96.0 71.8 96.8 71.8 97.5 71.8 98.2 71.9 99.0 71.9 99.8 71.9 100.5 72.0 101.2 72.0 102.0 72.0 102.8 72.2 103.5 72.3 104.2 72.5 105.0 72.6 105.8 72.8 106.5 72.9 107.2 73.1 108.0 73.0 108.8 72.8 109.5 72.6 110.2 72.4 111.0 72.2 111.8 72.1 112.5 71.8 113.2 71.5 114.0 71.1 114.8 70.8 115.5 70.8 116.2 70.8 117.0 70.9 117.8 71.0 118.5 71.1 119.2 71.2 120.0 71.3 120.8 70.7 121.5 70.2 122.2 69.6 123.0 69.1 123.8 68.5 124.5 68.0 125.2 67.5 126.0 67.1 126.8 66.7 127.5 66.4 128.2 66.0 129.0 65.7 129.8 65.9 130.5 66.0 131.2 66.1 132.0 66.2 132.8 66.1 133.5 65.6 134.2 65.1 135.0 64.7 135.8 64.2 136.5 63.9 137.2 64.4 138.0 64.9 138.8 65.4 139.5 65.9 140.2 66.4 141.0 66.9 141.8 67.4 142.5 67.9 143.2 68.4 144.0 69.2 144.8 70.7 145.5 72.2 146.2 73.7 147.0 75.5 147.8 77.3 148.5 79.1 149.2 80.8 150.0 82.1 150.8 84.1 151.5 85.6 152.2 86.9 153.0 87.8 153.8 88.5 154.5 88.8 155.2 89.4 156.0 90.3 156.8 89.8 157.5 89.9 158.2 90.0 159.0 89.9 159.8 90.8 160.5 89.8 161.2 90.1 162.0 88.5 162.8 85.4 163.5 81.3 164.2 80.0 165.0 77.9 165.8 77.2 166.5 77.8 167.2 77.1 168.0 77.0 168.8 75.5 169.5 70.7 170.2 69.4 171.0 66.3 171.8 66.3 172.5 66.2 173.2 69.6 174.0 71.2 174.8 73.2 175.5 73.4 176.2 75.3 177.0 74.8 177.8 77.1 178.5 80.7 179.2 79.2 180.0 77.9 180.8 85.2 181.5 85.4 182.2 90.5 183.0 92.6 183.8 96.1 184.5 97.9 185.2 98.1 186.0 96.9 186.8 99.9 187.5 100.9 188.2 100.5 189.0 101.5 189.8 99.8 190.5 95.3 191.2 96.7 192.0 94.2 192.8 94.9 193.5 98.2 194.2 94.1 195.0 92.7 195.8 94.5 196.5 94.6 197.2 100.2 198.0 95.7 198.8 102.4 199.5 103.0 200.2 104.5 201.0 99.9 201.8 101.5 202.5 105.0 203.2 103.2 204.0 103.1 204.8 105.9 205.5 109.2 206.2 108.8 207.0 106.5 207.8 112.5 208.5 107.1 209.2 108.6 210.0 113.5 210.8 112.9 211.5 110.3 212.2 116.3 213.0 111.4 213.8 113.0 214.5 111.2 215.2 114.1 216.0 112.9 216.8 115.5 217.5 114.1 218.2 120.9 219.0 120.2 219.8 121.3 220.5 115.5 221.2 118.4 222.0 117.3 222.8 120.9 223.5 120.1 224.2 123.9 224.5 125.0" stroke="#cc1c26" stroke-width="1.6" fill="none" stroke-linejoin="round"/>
<path d="M63.0 83.2 63.8 83.3 64.5 83.4 65.2 83.5 66.0 83.6 66.8 83.7 67.5 83.9 68.2 84.0 69.0 84.1 69.8 84.2 70.5 84.3 71.2 84.4 72.0 84.5 72.8 84.5 73.5 84.6 74.2 84.7 75.0 84.8 75.8 84.8 76.5 84.9 77.2 85.0 78.0 85.1 78.8 85.1 79.5 85.2 80.2 85.3 81.0 85.3 81.8 85.4 82.5 85.5 83.2 85.5 84.0 85.6 84.8 85.6 85.5 85.6 86.2 85.7 87.0 85.7 87.8 85.7 88.5 85.8 89.2 85.8 90.0 85.8 90.8 85.9 91.5 85.9 92.2 85.9 93.0 86.0 93.8 86.0 94.5 86.0 95.2 86.1 96.0 86.1 96.8 86.2 97.5 86.4 98.2 86.5 99.0 86.7 99.8 86.8 100.5 86.9 101.2 87.1 102.0 87.2 102.8 87.4 103.5 87.6 104.2 87.8 105.0 88.0 105.8 88.2 106.5 88.3 107.2 88.2 108.0 88.1 108.8 88.0 109.5 87.9 110.2 87.9 111.0 87.7 111.8 87.5 112.5 87.3 113.2 87.1 114.0 86.8 114.8 86.6 115.5 86.4 116.2 86.2 117.0 86.1 117.8 86.0 118.5 85.9 119.2 85.9 120.0 85.8 120.8 85.7 121.5 85.7 122.2 85.6 123.0 85.5 123.8 85.4 124.5 85.4 125.2 85.3 126.0 85.2 126.8 85.2 127.5 85.1 128.2 85.1 129.0 85.1 129.8 85.1 130.5 85.1 131.2 85.1 132.0 85.1 132.8 84.8 133.5 83.8 134.2 82.8 135.0 81.8 135.8 80.8 136.5 79.8 137.2 78.8 138.0 77.9 138.8 77.7 139.5 77.9 140.2 78.0 141.0 78.1 141.8 78.5 142.5 79.0 143.2 79.5 144.0 80.0 144.8 80.5 145.5 81.1 146.2 81.9 147.0 82.6 147.8 83.4 148.5 84.4 149.2 85.3 150.0 86.1 150.8 88.0 151.5 89.7 152.2 92.3 153.0 93.0 153.8 92.3 154.5 92.5 155.2 91.7 156.0 92.1 156.8 92.8 157.5 94.4 158.2 94.9 159.0 95.9 159.8 96.0 160.5 96.9 161.2 96.6 162.0 96.1 162.8 95.7 163.5 95.3 164.2 97.4 165.0 96.9 165.8 99.0 166.5 98.1 167.2 99.8 168.0 97.1 168.8 98.4 169.5 96.5 170.2 100.2 171.0 101.3 171.8 101.3 172.5 99.7 173.2 101.3 174.0 101.4 174.8 107.3 175.5 104.8 176.2 106.7 177.0 106.9 177.8 111.6 178.5 113.0 179.2 110.4 180.0 113.9 180.8 113.9 181.5 115.2 182.2 114.6 183.0 111.3 183.8 116.0 184.5 112.2 185.2 113.5 186.0 116.9 186.8 114.9 187.5 114.4 188.2 114.9 189.0 118.5 189.8 118.2 190.5 115.2 191.2 117.7 192.0 116.7 192.8 117.9 193.5 122.3 194.2 119.3 195.0 117.3 195.8 123.9 196.5 118.4 197.2 122.8 198.0 123.3 198.8 121.6 199.5 126.7 200.2 126.5 201.0 127.5 201.8 129.9 202.5 125.6 203.2 127.6 204.0 133.1 204.8 133.4 205.5 129.1 206.2 130.3 207.0 129.0 207.8 131.3 208.5 136.9 209.2 133.1 210.0 131.3 210.8 134.7 211.5 132.6 212.2 137.5 213.0 135.0 213.8 136.2 214.5 135.8 215.2 141.3 216.0 137.4 216.8 141.6 217.5 138.0 218.2 140.7 219.0 143.9 219.8 144.0 220.5 140.8 221.2 143.2 222.0 142.1 222.8 145.7 223.0 146.0" stroke="#111111" stroke-width="1.6" fill="none" stroke-linejoin="round" stroke-dasharray="2.4 1.3"/>
<path d="M63.0 70.3 63.8 70.3 64.5 70.4 65.2 70.4 66.0 70.4 66.8 70.4 67.5 70.5 68.2 70.5 69.0 70.5 69.8 70.5 70.5 70.6 71.2 70.6 72.0 70.6 72.8 70.6 73.5 70.7 74.2 70.7 75.0 70.7 75.8 70.8 76.5 70.8 77.2 70.8 78.0 70.8 78.8 70.8 79.5 70.8 80.2 70.8 81.0 70.8 81.8 70.8 82.5 70.8 83.2 70.8 84.0 70.8 84.8 70.8 85.5 70.8 86.2 70.8 87.0 70.8 87.8 70.8 88.5 70.7 89.2 70.6 90.0 70.4 90.8 70.3 91.5 70.1 92.2 69.9 93.0 69.8 93.8 69.6 94.5 69.5 95.2 69.3 96.0 69.1 96.8 69.2 97.5 69.3 98.2 69.5 99.0 69.6 99.8 69.8 100.5 70.1 101.2 70.3 102.0 70.6 102.8 70.9 103.5 71.2 104.2 71.5 105.0 71.9 105.8 72.2 106.5 72.6 107.2 73.0 108.0 72.8 108.8 72.5 109.5 72.1 110.2 71.7 111.0 71.4 111.8 71.3 112.5 71.2 113.2 71.2 114.0 71.1 114.8 71.0 115.5 71.0 116.2 71.1 117.0 71.1 117.8 71.2 118.5 71.2 119.2 71.3 120.0 71.3 120.8 71.2 121.5 71.0 122.2 70.9 123.0 70.7 123.8 70.6 124.5 70.4 125.2 70.3 126.0 70.2 126.8 69.8 127.5 69.2 128.2 68.6 129.0 68.6 129.8 70.1 130.5 71.6 131.2 73.1 132.0 72.7 132.8 72.1 133.5 71.5 134.2 70.4 135.0 68.9 135.8 67.5 136.5 66.0 137.2 64.5 138.0 64.2 138.8 65.0 139.5 65.8 140.2 66.5 141.0 67.3 141.8 67.9 142.5 68.4 143.2 68.9 144.0 69.4 144.8 69.9 145.5 71.1 146.2 73.0 147.0 74.8 147.8 76.7 148.5 78.6 149.2 80.5 150.0 82.8 150.8 84.4 151.5 86.6 152.2 89.5 153.0 90.0 153.8 90.1 154.5 90.9 155.2 90.1 156.0 89.9 156.8 90.2 157.5 90.1 158.2 90.7 159.0 90.5 159.8 91.2 160.5 91.4 161.2 89.1 162.0 87.5 162.8 86.8 163.5 84.4 164.2 83.0 165.0 81.2 165.8 81.1 166.5 80.0 167.2 78.2 168.0 74.4 168.8 75.0 169.5 70.6 170.2 69.9 171.0 69.8 171.8 71.9 172.5 72.3 173.2 73.5 174.0 76.8 174.8 75.7 175.5 75.7 176.2 80.5 177.0 77.5 177.8 82.9 178.5 78.8 179.2 81.2 180.0 86.1 180.8 82.9 181.5 84.2 182.2 89.5 183.0 87.2 183.8 92.5 184.5 91.2 185.2 96.5 186.0 93.9 186.8 95.4 187.5 95.4 188.2 96.8 189.0 94.5 189.8 95.5 190.5 97.4 191.2 95.2 192.0 92.2 192.8 93.7 193.5 92.0 194.2 91.7 195.0 89.8 195.8 97.0 196.5 91.9 197.2 97.2 198.0 99.9 198.8 99.1 199.5 95.4 200.2 97.5 201.0 102.6 201.8 99.2 202.5 98.2 203.2 105.5 204.0 100.8 204.8 105.1 205.5 107.0 206.2 103.3 207.0 102.7 207.8 109.0 208.5 103.5 209.2 106.7 210.0 109.0 210.8 110.0 211.5 106.8 212.2 109.1 213.0 107.1 213.8 110.1 214.5 113.3 215.2 110.9 216.0 109.3 216.8 112.5 217.5 114.8 218.2 118.3 219.0 116.1 219.8 119.8 220.5 117.1 221.2 117.6 222.0 113.9 222.8 117.6 223.5 123.6 224.2 120.3 224.5 121.0" stroke="#cc1c26" stroke-width="1.6" fill="none" stroke-linejoin="round" stroke-dasharray="2.4 1.3"/>
<rect x="44.5" y="11.5" width="220" height="39" fill="#fff" stroke="#a6a6a6" stroke-width="0.9"/>
<path d="M49 18.4h16.5" stroke="#2b7cc6" stroke-width="1.5"/>
<text x="67.1" y="20.299999999999997" font-size="6.4" font-weight="bold" textLength="84.3" lengthAdjust="spacingAndGlyphs">X:115cm, Uw:0m/s, 0.5hr(type-B)</text>
<path d="M49 31.4h16.5" stroke="#cc1c26" stroke-width="1.5"/>
<text x="67.1" y="33.3" font-size="6.4" font-weight="bold" textLength="61.5" lengthAdjust="spacingAndGlyphs">X:115cm, Uw:0m/s, 4.5hr</text>
<path d="M49 44.4h16.5" stroke="#cc1c26" stroke-width="1.5" stroke-dasharray="2.2 1.3"/>
<text x="67.1" y="46.3" font-size="6.4" font-weight="bold" textLength="61.5" lengthAdjust="spacingAndGlyphs">X:115cm, Uw:8m/s, 4.5hr</text>
<path d="M159 18.4h16.5" stroke="#111" stroke-width="1.1"/>
<text x="177.1" y="20.299999999999997" font-size="6.4" font-weight="bold" textLength="60.6" lengthAdjust="spacingAndGlyphs">X:85cm, Uw:0m/s, 4.5hr</text>
<path d="M159 31.4h16.5" stroke="#111" stroke-width="1.1" stroke-dasharray="2.2 1.3"/>
<text x="177.1" y="33.3" font-size="6.4" font-weight="bold" textLength="60.6" lengthAdjust="spacingAndGlyphs">X:85cm, Uw:8m/s, 4.5hr</text>
<text x="33.9" y="160.00" font-size="7.4" font-weight="bold" style="stroke:none" text-anchor="end">0.001</text>
<text x="33.9" y="131.60" font-size="7.4" font-weight="bold" style="stroke:none" text-anchor="end">0.01</text>
<text x="33.9" y="103.20" font-size="7.4" font-weight="bold" style="stroke:none" text-anchor="end">0.1</text>
<text x="33.9" y="74.80" font-size="7.4" font-weight="bold" style="stroke:none" text-anchor="end">1</text>
<text x="33.9" y="46.40" font-size="7.4" font-weight="bold" style="stroke:none" text-anchor="end">10</text>
<text x="33.9" y="18.00" font-size="7.4" font-weight="bold" style="stroke:none" text-anchor="end">100</text>
<text x="40.50" y="170.4" font-size="7.4" font-weight="bold" style="stroke:none" text-anchor="middle">0.01</text>
<text x="115.10" y="170.4" font-size="7.4" font-weight="bold" style="stroke:none" text-anchor="middle">0.1</text>
<text x="189.70" y="170.4" font-size="7.4" font-weight="bold" style="stroke:none" text-anchor="middle">1</text>
<text x="264.30" y="170.4" font-size="7.4" font-weight="bold" style="stroke:none" text-anchor="middle">10</text>
<text x="152.6" y="181.5" font-size="7.9" font-weight="bold" text-anchor="middle" textLength="52.8" lengthAdjust="spacingAndGlyphs">Frequency(Hz)</text>
<text transform="translate(15,88.7) rotate(-90)" font-size="7.6" font-weight="bold" text-anchor="middle" textLength="45" lengthAdjust="spacingAndGlyphs">S(f)·(cm²/Hz)</text>
<text class="cap" x="138.5" y="198.2" font-size="10.4" font-weight="bold" text-anchor="middle">(b)</text>
</g>
<g transform="translate(0,193.7)">
<rect x="5.5" y="6.5" width="266.5" height="178.5" fill="#fff" stroke="#d9d9d9" stroke-width="1"/>
<path d="M62.96 16.00V158.00M76.09 16.00V158.00M85.41 16.00V158.00M92.64 16.00V158.00M98.55 16.00V158.00M103.54 16.00V158.00M107.87 16.00V158.00M111.69 16.00V158.00M115.10 16.00V158.00M137.56 16.00V158.00M150.69 16.00V158.00M160.01 16.00V158.00M167.24 16.00V158.00M173.15 16.00V158.00M178.14 16.00V158.00M182.47 16.00V158.00M186.29 16.00V158.00M189.70 16.00V158.00M212.16 16.00V158.00M225.29 16.00V158.00M234.61 16.00V158.00M241.84 16.00V158.00M247.75 16.00V158.00M252.74 16.00V158.00M257.07 16.00V158.00M260.89 16.00V158.00M40.50 149.45H264.30M40.50 144.45H264.30M40.50 140.90H264.30M40.50 138.15H264.30M40.50 135.90H264.30M40.50 134.00H264.30M40.50 132.35H264.30M40.50 130.90H264.30M40.50 129.60H264.30M40.50 121.05H264.30M40.50 116.05H264.30M40.50 112.50H264.30M40.50 109.75H264.30M40.50 107.50H264.30M40.50 105.60H264.30M40.50 103.95H264.30M40.50 102.50H264.30M40.50 101.20H264.30M40.50 92.65H264.30M40.50 87.65H264.30M40.50 84.10H264.30M40.50 81.35H264.30M40.50 79.10H264.30M40.50 77.20H264.30M40.50 75.55H264.30M40.50 74.10H264.30M40.50 72.80H264.30M40.50 64.25H264.30M40.50 59.25H264.30M40.50 55.70H264.30M40.50 52.95H264.30M40.50 50.70H264.30M40.50 48.80H264.30M40.50 47.15H264.30M40.50 45.70H264.30M40.50 44.40H264.30M40.50 35.85H264.30M40.50 30.85H264.30M40.50 27.30H264.30M40.50 24.55H264.30M40.50 22.30H264.30M40.50 20.40H264.30M40.50 18.75H264.30M40.50 17.30H264.30M40.50 16.00H264.30M264.30 16.00V158.00" stroke="#cccccc" stroke-width="0.9" fill="none"/>
<path d="M40.50 158.00v-2M62.96 158.00v-2M76.09 158.00v-2M85.41 158.00v-2M92.64 158.00v-2M98.55 158.00v-2M103.54 158.00v-2M107.87 158.00v-2M111.69 158.00v-2M115.10 158.00v-2M137.56 158.00v-2M150.69 158.00v-2M160.01 158.00v-2M167.24 158.00v-2M173.15 158.00v-2M178.14 158.00v-2M182.47 158.00v-2M186.29 158.00v-2M189.70 158.00v-2M212.16 158.00v-2M225.29 158.00v-2M234.61 158.00v-2M241.84 158.00v-2M247.75 158.00v-2M252.74 158.00v-2M257.07 158.00v-2M260.89 158.00v-2M264.30 158.00v-2M40.50 158.00h2.2M40.50 149.45h2.2M40.50 144.45h2.2M40.50 140.90h2.2M40.50 138.15h2.2M40.50 135.90h2.2M40.50 134.00h2.2M40.50 132.35h2.2M40.50 130.90h2.2M40.50 129.60h2.2M40.50 121.05h2.2M40.50 116.05h2.2M40.50 112.50h2.2M40.50 109.75h2.2M40.50 107.50h2.2M40.50 105.60h2.2M40.50 103.95h2.2M40.50 102.50h2.2M40.50 101.20h2.2M40.50 92.65h2.2M40.50 87.65h2.2M40.50 84.10h2.2M40.50 81.35h2.2M40.50 79.10h2.2M40.50 77.20h2.2M40.50 75.55h2.2M40.50 74.10h2.2M40.50 72.80h2.2M40.50 64.25h2.2M40.50 59.25h2.2M40.50 55.70h2.2M40.50 52.95h2.2M40.50 50.70h2.2M40.50 48.80h2.2M40.50 47.15h2.2M40.50 45.70h2.2M40.50 44.40h2.2M40.50 35.85h2.2M40.50 30.85h2.2M40.50 27.30h2.2M40.50 24.55h2.2M40.50 22.30h2.2M40.50 20.40h2.2M40.50 18.75h2.2M40.50 17.30h2.2M40.50 16.00h2.2" stroke="#505050" stroke-width="0.9" fill="none"/>
<path d="M40.50 16.00V157.70H264.30" stroke="#555" stroke-width="1.05" fill="none" stroke-linejoin="round"/>
<path d="M62.8 67.2 63.5 67.6 64.3 68.0 65.0 68.4 65.8 68.8 66.5 69.2 67.3 69.6 68.0 70.0 68.8 70.4 69.5 70.8 70.3 71.2 71.0 71.6 71.8 71.9 72.5 72.3 73.3 72.7 74.0 73.1 74.8 73.4 75.5 73.8 76.3 74.2 77.0 74.5 77.8 74.9 78.5 75.3 79.3 75.6 80.0 76.0 80.8 76.3 81.5 76.6 82.3 76.9 83.0 77.2 83.8 77.6 84.5 77.9 85.3 78.2 86.0 78.5 86.8 78.6 87.5 78.6 88.3 78.7 89.0 78.7 89.8 78.8 90.5 78.8 91.3 78.9 92.0 78.9 92.8 79.0 93.5 79.1 94.3 79.2 95.0 79.2 95.8 79.3 96.5 79.4 97.3 79.5 98.0 79.6 98.8 79.9 99.5 80.6 100.3 81.2 101.0 81.9 101.8 82.5 102.5 83.2 103.3 83.8 104.0 84.5 104.8 85.2 105.5 85.8 106.3 86.5 107.0 87.1 107.8 87.3 108.5 87.0 109.3 86.6 110.0 86.2 110.8 85.8 111.5 85.0 112.3 84.3 113.0 83.6 113.8 82.8 114.5 82.2 115.3 81.9 116.0 81.5 116.8 81.1 117.5 80.8 118.3 80.4 119.0 80.0 119.8 79.6 120.5 80.3 121.3 79.8 122.0 79.3 122.8 78.7 123.5 78.2 124.3 77.7 125.0 77.2 125.8 76.6 126.5 76.2 127.3 76.1 128.1 75.9 128.8 75.8 129.6 75.6 130.3 75.5 131.1 75.3 131.8 75.1 132.6 75.0 133.3 74.5 134.1 74.1 134.8 73.6 135.6 73.1 136.3 72.7 137.1 72.2 137.8 71.8 138.6 71.3 139.3 70.8 140.1 70.2 140.8 69.7 141.6 69.6 142.3 70.2 143.1 70.7 143.8 71.3 144.6 72.2 145.3 73.2 146.1 74.1 146.8 75.1 147.6 76.0 148.3 77.0 149.1 78.0 149.8 79.0 150.6 80.3 151.3 82.3 152.1 83.7 152.8 84.1 153.6 84.7 154.3 85.6 155.1 86.0 155.8 84.4 156.6 84.3 157.3 82.0 158.1 83.4 158.8 83.3 159.6 85.5 160.3 85.4 161.1 85.9 161.8 87.4 162.6 87.7 163.3 87.1 164.1 86.6 164.8 86.5 165.6 88.1 166.3 90.0 167.1 89.3 167.8 89.0 168.6 87.8 169.3 84.9 170.1 87.6 170.8 88.2 171.6 86.2 172.3 87.4 173.1 86.1 173.8 84.5 174.6 89.6 175.3 89.2 176.1 91.1 176.8 94.9 177.6 93.6 178.3 94.3 179.1 98.0 179.8 102.2 180.6 104.0 181.3 99.9 182.1 103.4 182.8 101.3 183.6 103.1 184.3 102.9 185.1 106.6 185.8 107.9 186.6 105.0 187.3 108.7 188.1 106.2 188.8 108.8 189.6 110.4 190.3 106.9 191.1 110.6 191.8 108.2 192.6 110.1 193.3 109.2 194.1 114.6 194.8 113.1 195.6 115.0 196.3 111.7 197.1 113.1 197.8 117.6 198.6 114.9 199.3 114.1 200.1 116.2 200.8 114.6 201.6 116.7 202.3 115.6 203.1 117.3 203.8 121.8 204.6 119.3 205.3 118.6 206.1 120.1 206.8 119.8 207.6 121.4 208.3 120.3 209.1 122.5 209.8 126.2 210.6 127.2 211.3 123.2 212.1 126.7 212.8 123.9 213.6 129.7 214.3 128.6 215.1 127.0 215.8 126.0 216.6 130.5 217.3 126.8 218.1 129.2 218.8 128.3 219.6 129.7 220.3 129.2 221.1 130.7 221.8 135.8 222.6 133.0 223.3 132.2 224.1 136.0 224.8 150.4 225.0 147.5" stroke="#2b7cc6" stroke-width="1.6" fill="none" stroke-linejoin="round"/>
<path d="M62.8 75.6 63.5 75.8 64.3 75.9 65.0 76.0 65.8 76.2 66.5 76.3 67.3 76.5 68.0 76.6 68.8 76.8 69.5 77.0 70.3 77.1 71.0 77.2 71.8 77.4 72.5 77.5 73.3 77.6 74.0 77.7 74.8 77.8 75.5 77.9 76.3 78.1 77.0 78.2 77.8 78.3 78.5 78.4 79.3 78.5 80.0 78.6 80.8 78.7 81.5 78.8 82.3 79.0 83.0 79.0 83.8 79.0 84.5 79.0 85.3 79.0 86.0 79.0 86.8 79.0 87.5 79.0 88.3 79.0 89.0 79.0 89.8 79.0 90.5 79.0 91.3 79.0 92.0 78.9 92.8 78.8 93.5 78.7 94.3 78.6 95.0 78.4 95.8 78.3 96.5 78.2 97.3 78.1 98.0 78.0 98.8 78.1 99.5 78.6 100.3 79.1 101.0 79.5 101.8 80.0 102.5 80.5 103.3 80.9 104.0 81.3 104.8 81.7 105.5 82.0 106.3 82.4 107.0 82.8 107.8 82.9 108.5 82.7 109.3 82.6 110.0 82.4 110.8 82.2 111.5 82.0 112.3 81.8 113.0 81.5 113.8 81.2 114.5 80.9 115.3 80.7 116.0 80.4 116.8 80.1 117.5 80.0 118.3 79.8 119.0 79.6 119.8 79.4 120.5 79.0 121.3 78.5 122.0 78.0 122.8 77.4 123.5 76.9 124.3 76.4 125.0 75.9 125.8 75.3 126.5 74.9 127.3 74.7 128.1 74.5 128.8 74.2 129.6 74.0 130.3 73.8 131.1 73.5 131.8 73.3 132.6 73.1 133.3 72.7 134.1 72.3 134.8 72.0 135.6 71.6 136.3 71.2 137.1 70.9 137.8 70.5 138.6 70.1 139.3 69.9 140.1 69.8 140.8 69.7 141.6 69.6 142.3 69.4 143.1 70.1 143.8 71.2 144.6 72.3 145.3 73.2 146.1 73.7 146.8 74.2 147.6 74.7 148.3 75.2 149.1 75.9 149.8 77.4 150.6 79.0 151.3 80.3 152.1 80.9 152.8 79.8 153.6 79.9 154.3 80.5 155.1 82.4 155.8 83.0 156.6 84.7 157.3 86.0 158.1 88.3 158.8 88.9 159.6 90.4 160.3 92.3 161.1 92.6 161.8 94.3 162.6 95.1 163.3 96.4 164.1 94.0 164.8 92.2 165.6 91.8 166.3 91.8 167.1 93.6 167.8 92.0 168.6 93.1 169.3 90.1 170.1 89.7 170.8 89.4 171.6 94.5 172.3 92.7 173.1 93.4 173.8 90.2 174.6 91.8 175.3 94.6 176.1 97.6 176.8 95.1 177.6 97.2 178.3 98.6 179.1 104.3 179.8 101.2 180.6 105.8 181.3 105.4 182.1 103.9 182.8 104.0 183.6 108.0 184.3 108.7 185.1 106.5 185.8 106.4 186.6 107.5 187.3 112.6 188.1 109.7 188.8 108.7 189.6 114.1 190.3 110.7 191.1 112.2 191.8 111.5 192.6 114.1 193.3 116.2 194.1 114.9 194.8 114.1 195.6 125.3 196.3 121.4 197.1 119.8 197.8 122.7 198.6 119.3 199.3 119.1 200.1 120.6 200.8 123.7 201.6 126.8 202.3 127.5 203.1 124.1 203.8 126.4 204.6 125.2 205.3 127.5 206.1 129.1 206.8 125.6 207.6 127.2 208.3 130.6 209.1 131.2 209.8 133.4 210.6 132.6 211.3 129.2 212.1 133.4 212.8 134.0 213.6 131.0 214.3 131.2 215.1 132.9 215.8 131.5 216.6 133.2 217.3 140.8 218.1 138.5 218.8 137.7 219.6 136.1 220.3 135.5 221.1 136.7 221.8 135.4 222.6 141.8 223.3 142.7 224.1 146.3 224.5 146.0" stroke="#111111" stroke-width="1.6" fill="none" stroke-linejoin="round"/>
<path d="M62.8 72.3 63.5 72.3 64.3 72.3 65.0 72.4 65.8 72.4 66.5 72.4 67.3 72.4 68.0 72.4 68.8 72.4 69.5 72.5 70.3 72.5 71.0 72.5 71.8 72.5 72.5 72.5 73.3 72.5 74.0 72.5 74.8 72.4 75.5 72.4 76.3 72.4 77.0 72.4 77.8 72.4 78.5 72.4 79.3 72.4 80.0 72.3 80.8 72.3 81.5 72.3 82.3 72.3 83.0 72.2 83.8 72.1 84.5 72.0 85.3 71.8 86.0 71.7 86.8 71.6 87.5 71.4 88.3 71.3 89.0 71.2 89.8 71.0 90.5 70.8 91.3 70.6 92.0 70.5 92.8 70.3 93.5 70.1 94.3 69.9 95.0 69.7 95.8 69.5 96.5 69.4 97.3 69.2 98.0 69.0 98.8 69.1 99.5 69.3 100.3 69.6 101.0 69.9 101.8 70.2 102.5 70.5 103.3 70.8 104.0 71.3 104.8 71.8 105.5 72.2 106.3 72.7 107.0 73.1 107.8 73.3 108.5 73.0 109.3 72.7 110.0 72.4 110.8 72.2 111.5 71.9 112.3 71.6 113.0 71.4 113.8 71.2 114.5 71.0 115.3 70.9 116.0 70.8 116.8 70.8 117.5 70.7 118.3 70.7 119.0 70.7 119.8 70.6 120.5 70.3 121.3 69.9 122.0 69.6 122.8 69.2 123.5 68.8 124.3 68.4 125.0 68.1 125.8 68.4 126.5 68.7 127.3 69.0 128.1 69.3 128.8 69.5 129.6 69.8 130.3 69.7 131.1 68.8 131.8 67.9 132.6 67.0 133.3 66.2 134.1 65.4 134.8 64.9 135.6 64.4 136.3 64.0 137.1 63.5 137.8 63.3 138.6 64.1 139.3 64.8 140.1 65.6 140.8 66.4 141.6 67.2 142.3 67.9 143.1 68.7 143.8 69.4 144.6 70.9 145.3 72.4 146.1 73.9 146.8 75.4 147.6 76.9 148.3 78.3 149.1 79.8 149.8 81.3 150.6 82.8 151.3 83.2 152.1 84.3 152.8 85.3 153.6 86.8 154.3 86.4 155.1 86.4 155.8 86.9 156.6 85.9 157.3 85.4 158.1 85.1 158.8 84.1 159.6 83.8 160.3 82.5 161.1 82.0 161.8 80.3 162.6 78.8 163.3 76.9 164.1 74.1 164.8 72.2 165.6 72.0 166.3 69.7 167.1 70.2 167.8 70.4 168.6 71.8 169.3 69.9 170.1 67.7 170.8 63.1 171.6 62.0 172.3 63.5 173.1 62.2 173.8 61.1 174.6 63.5 175.3 64.7 176.1 66.1 176.8 66.0 177.6 68.0 178.3 70.9 179.1 76.9 179.8 81.0 180.6 80.3 181.3 78.2 182.1 81.0 182.8 81.1 183.6 83.9 184.3 82.9 185.1 89.3 185.8 85.9 186.6 87.1 187.3 90.2 188.1 88.7 188.8 88.5 189.6 89.5 190.3 87.8 191.1 89.3 191.8 93.1 192.6 92.4 193.3 86.9 194.1 89.2 194.8 91.9 195.6 89.8 196.3 89.2 197.1 91.1 197.8 94.1 198.6 93.6 199.3 92.8 200.1 95.6 200.8 94.8 201.6 97.7 202.3 95.6 203.1 102.0 203.8 96.9 204.6 99.9 205.3 103.4 206.1 102.9 206.8 98.4 207.6 100.6 208.3 104.9 209.1 102.0 209.8 106.6 210.6 105.3 211.3 101.2 212.1 104.5 212.8 108.7 213.6 105.5 214.3 104.7 215.1 105.7 215.8 105.0 216.6 106.9 217.3 111.5 218.1 108.8 218.8 106.9 219.6 114.4 220.3 115.6 221.1 109.8 221.8 109.5 222.6 112.2 223.3 111.7 224.1 115.9 224.3 116.2" stroke="#cc1c26" stroke-width="1.6" fill="none" stroke-linejoin="round"/>
<path d="M62.8 79.3 63.5 79.3 64.3 79.4 65.0 79.4 65.8 79.4 66.5 79.4 67.3 79.5 68.0 79.5 68.8 79.5 69.5 79.5 70.3 79.6 71.0 79.6 71.8 79.6 72.5 79.7 73.3 79.8 74.0 79.9 74.8 79.9 75.5 80.0 76.3 80.1 77.0 80.2 77.8 80.2 78.5 80.3 79.3 80.4 80.0 80.5 80.8 80.5 81.5 80.6 82.3 80.7 83.0 80.8 83.8 80.9 84.5 81.1 85.3 81.2 86.0 81.4 86.8 81.6 87.5 81.7 88.3 81.9 89.0 82.0 89.8 82.2 90.5 82.3 91.3 82.5 92.0 82.6 92.8 82.8 93.5 82.9 94.3 83.1 95.0 83.2 95.8 83.4 96.5 83.6 97.3 83.7 98.0 83.9 98.8 84.0 99.5 84.2 100.3 84.4 101.0 84.5 101.8 84.7 102.5 84.8 103.3 84.9 104.0 84.9 104.8 84.9 105.5 84.9 106.3 84.9 107.0 84.9 107.8 84.8 108.5 84.6 109.3 84.3 110.0 84.1 110.8 83.9 111.5 83.6 112.3 83.3 113.0 82.8 113.8 82.4 114.5 81.9 115.3 81.4 116.0 81.0 116.8 80.6 117.5 80.3 118.3 80.0 119.0 79.7 119.8 79.3 120.5 78.9 121.3 78.4 122.0 78.0 122.8 77.5 123.5 77.1 124.3 76.6 125.0 76.1 125.8 75.7 126.5 75.4 127.3 75.2 128.1 75.1 128.8 74.9 129.6 74.8 130.3 74.6 131.1 74.4 131.8 74.3 132.6 74.1 133.3 73.9 134.1 73.8 134.8 73.4 135.6 72.9 136.3 72.4 137.1 71.9 137.8 71.4 138.6 70.8 139.3 70.3 140.1 70.0 140.8 70.6 141.6 71.1 142.3 71.7 143.1 72.3 143.8 72.8 144.6 73.4 145.3 74.1 146.1 74.7 146.8 75.3 147.6 75.9 148.3 76.5 149.1 77.6 149.8 78.6 150.6 79.6 151.3 80.4 152.1 82.1 152.8 83.2 153.6 84.3 154.3 84.5 155.1 86.4 155.8 86.7 156.6 88.8 157.3 89.3 158.1 89.5 158.8 89.9 159.6 90.8 160.3 91.0 161.1 91.5 161.8 93.0 162.6 93.0 163.3 93.7 164.1 95.3 164.8 95.8 165.6 95.9 166.3 97.3 167.1 95.6 167.8 96.2 168.6 95.0 169.3 97.1 170.1 97.1 170.8 93.7 171.6 94.7 172.3 98.0 173.1 95.4 173.8 96.4 174.6 101.6 175.3 106.2 176.1 106.7 176.8 103.2 177.6 108.0 178.3 107.5 179.1 106.9 179.8 107.1 180.6 106.2 181.3 105.6 182.1 108.6 182.8 105.6 183.6 108.2 184.3 107.1 185.1 110.6 185.8 107.8 186.6 110.1 187.3 109.2 188.1 115.1 188.8 111.1 189.6 114.9 190.3 115.9 191.1 114.6 191.8 118.6 192.6 118.8 193.3 114.5 194.1 117.7 194.8 117.1 195.6 122.1 196.3 117.4 197.1 124.3 197.8 119.4 198.6 124.5 199.3 120.9 200.1 123.6 200.8 123.1 201.6 129.6 202.3 124.2 203.1 126.8 203.8 124.9 204.6 132.3 205.3 127.0 206.1 128.3 206.8 127.5 207.6 134.9 208.3 134.0 209.1 131.4 209.8 135.7 210.6 136.4 211.3 131.0 212.1 132.6 212.8 131.7 213.6 133.6 214.3 138.8 215.1 135.1 215.8 139.1 216.6 139.9 217.3 135.3 218.1 142.8 218.8 137.1 219.6 143.4 220.3 142.3 221.1 140.4 221.8 144.2 222.6 141.7 223.3 142.1 224.0 146.0" stroke="#111111" stroke-width="1.6" fill="none" stroke-linejoin="round" stroke-dasharray="2.4 1.3"/>
<path d="M62.8 65.7 63.5 65.7 64.3 65.8 65.0 65.8 65.8 65.8 66.5 65.8 67.3 65.9 68.0 65.9 68.8 65.9 69.5 65.9 70.3 66.0 71.0 66.0 71.8 66.0 72.5 66.0 73.3 66.1 74.0 66.1 74.8 66.1 75.5 66.1 76.3 66.1 77.0 66.2 77.8 66.2 78.5 66.2 79.3 66.2 80.0 66.2 80.8 66.3 81.5 66.3 82.3 66.3 83.0 66.3 83.8 66.3 84.5 66.3 85.3 66.3 86.0 66.3 86.8 66.3 87.5 66.3 88.3 66.4 89.0 66.4 89.8 66.4 90.5 66.4 91.3 66.4 92.0 66.4 92.8 66.4 93.5 66.4 94.3 66.4 95.0 66.3 95.8 66.3 96.5 66.2 97.3 66.2 98.0 66.2 98.8 66.1 99.5 66.1 100.3 66.0 101.0 65.9 101.8 65.6 102.5 65.3 103.3 65.0 104.0 64.7 104.8 64.5 105.5 64.2 106.3 64.1 107.0 63.9 107.8 63.8 108.5 63.6 109.3 63.5 110.0 63.4 110.8 63.4 111.5 63.3 112.3 63.3 113.0 63.3 113.8 63.2 114.5 63.2 115.3 63.2 116.0 63.3 116.8 63.3 117.5 63.3 118.3 63.3 119.0 63.4 119.8 63.4 120.5 63.1 121.3 62.8 122.0 62.5 122.8 62.0 123.5 61.5 124.3 61.0 125.0 60.5 125.8 60.0 126.5 59.7 127.3 59.5 128.1 59.3 128.8 59.1 129.6 58.9 130.3 58.7 131.1 58.8 131.8 59.0 132.6 59.1 133.3 59.2 134.1 59.3 134.8 59.4 135.6 59.3 136.3 59.3 137.1 59.2 137.8 59.2 138.6 59.1 139.3 59.6 140.1 60.0 140.8 60.5 141.6 60.9 142.3 62.0 143.1 64.1 143.8 66.2 144.6 67.9 145.3 69.6 146.1 71.3 146.8 73.0 147.6 74.5 148.3 75.9 149.1 77.4 149.8 78.9 150.6 80.3 151.3 81.8 152.1 84.0 152.8 84.8 153.6 85.8 154.3 85.7 155.1 86.6 155.8 86.3 156.6 86.8 157.3 86.9 158.1 86.5 158.8 84.5 159.6 83.6 160.3 82.0 161.1 81.3 161.8 79.8 162.6 81.1 163.3 78.4 164.1 74.6 164.8 72.4 165.6 69.8 166.3 68.7 167.1 69.5 167.8 69.2 168.6 70.6 169.3 66.6 170.1 65.0 170.8 62.2 171.6 62.4 172.3 58.5 173.1 62.1 173.8 58.3 174.6 62.6 175.3 67.5 176.1 70.1 176.8 70.6 177.6 68.1 178.3 68.3 179.1 73.8 179.8 73.5 180.6 79.9 181.3 75.6 182.1 82.0 182.8 78.6 183.6 84.1 184.3 80.7 185.1 83.6 185.8 82.9 186.6 84.5 187.3 84.1 188.1 86.9 188.8 85.4 189.6 86.8 190.3 84.9 191.1 86.9 191.8 85.2 192.6 86.3 193.3 89.0 194.1 90.9 194.8 84.9 195.6 88.0 196.3 86.6 197.1 88.0 197.8 92.2 198.6 93.6 199.3 96.5 200.1 92.6 200.8 93.1 201.6 94.8 202.3 93.0 203.1 96.2 203.8 95.4 204.6 99.2 205.3 95.9 206.1 101.5 206.8 96.8 207.6 98.6 208.3 97.3 209.1 104.9 209.8 102.8 210.6 100.3 211.3 98.9 212.1 106.1 212.8 101.3 213.6 108.3 214.3 101.3 215.1 103.7 215.8 103.4 216.6 108.0 217.3 102.9 218.1 108.5 218.8 111.9 219.6 106.4 220.3 106.0 221.1 111.6 221.8 106.8 222.6 115.7 223.3 110.5 224.1 116.3 224.3 113.8" stroke="#cc1c26" stroke-width="1.6" fill="none" stroke-linejoin="round" stroke-dasharray="2.4 1.3"/>
<rect x="44.5" y="11.5" width="220" height="39" fill="#fff" stroke="#a6a6a6" stroke-width="0.9"/>
<path d="M49 18.4h16.5" stroke="#2b7cc6" stroke-width="1.5"/>
<text x="67.1" y="20.299999999999997" font-size="6.4" font-weight="bold" textLength="84.3" lengthAdjust="spacingAndGlyphs">X:115cm, Uw:0m/s, 0.5hr(type-B)</text>
<path d="M49 31.4h16.5" stroke="#cc1c26" stroke-width="1.5"/>
<text x="67.1" y="33.3" font-size="6.4" font-weight="bold" textLength="61.5" lengthAdjust="spacingAndGlyphs">X:115cm, Uw:0m/s, 4.5hr</text>
<path d="M49 44.4h16.5" stroke="#cc1c26" stroke-width="1.5" stroke-dasharray="2.2 1.3"/>
<text x="67.1" y="46.3" font-size="6.4" font-weight="bold" textLength="61.5" lengthAdjust="spacingAndGlyphs">X:115cm, Uw:8m/s, 4.5hr</text>
<path d="M159 18.4h16.5" stroke="#111" stroke-width="1.1"/>
<text x="177.1" y="20.299999999999997" font-size="6.4" font-weight="bold" textLength="60.6" lengthAdjust="spacingAndGlyphs">X:85cm, Uw:0m/s, 4.5hr</text>
<path d="M159 31.4h16.5" stroke="#111" stroke-width="1.1" stroke-dasharray="2.2 1.3"/>
<text x="177.1" y="33.3" font-size="6.4" font-weight="bold" textLength="60.6" lengthAdjust="spacingAndGlyphs">X:85cm, Uw:8m/s, 4.5hr</text>
<text x="33.9" y="160.00" font-size="7.4" font-weight="bold" style="stroke:none" text-anchor="end">0.001</text>
<text x="33.9" y="131.60" font-size="7.4" font-weight="bold" style="stroke:none" text-anchor="end">0.01</text>
<text x="33.9" y="103.20" font-size="7.4" font-weight="bold" style="stroke:none" text-anchor="end">0.1</text>
<text x="33.9" y="74.80" font-size="7.4" font-weight="bold" style="stroke:none" text-anchor="end">1</text>
<text x="33.9" y="46.40" font-size="7.4" font-weight="bold" style="stroke:none" text-anchor="end">10</text>
<text x="33.9" y="18.00" font-size="7.4" font-weight="bold" style="stroke:none" text-anchor="end">100</text>
<text x="40.50" y="170.4" font-size="7.4" font-weight="bold" style="stroke:none" text-anchor="middle">0.01</text>
<text x="115.10" y="170.4" font-size="7.4" font-weight="bold" style="stroke:none" text-anchor="middle">0.1</text>
<text x="189.70" y="170.4" font-size="7.4" font-weight="bold" style="stroke:none" text-anchor="middle">1</text>
<text x="264.30" y="170.4" font-size="7.4" font-weight="bold" style="stroke:none" text-anchor="middle">10</text>
<text x="152.6" y="181.5" font-size="7.9" font-weight="bold" text-anchor="middle" textLength="52.8" lengthAdjust="spacingAndGlyphs">Frequency(Hz)</text>
<text transform="translate(15,88.7) rotate(-90)" font-size="7.6" font-weight="bold" text-anchor="middle" textLength="45" lengthAdjust="spacingAndGlyphs">S(f)·(cm²/Hz)</text>
<text class="cap" x="138.5" y="198.2" font-size="10.4" font-weight="bold" text-anchor="middle">(c)</text>
</g>
<g transform="translate(273.0,193.7)">
<rect x="5.5" y="6.5" width="266.5" height="178.5" fill="#fff" stroke="#d9d9d9" stroke-width="1"/>
<path d="M62.96 16.00V158.00M76.09 16.00V158.00M85.41 16.00V158.00M92.64 16.00V158.00M98.55 16.00V158.00M103.54 16.00V158.00M107.87 16.00V158.00M111.69 16.00V158.00M115.10 16.00V158.00M137.56 16.00V158.00M150.69 16.00V158.00M160.01 16.00V158.00M167.24 16.00V158.00M173.15 16.00V158.00M178.14 16.00V158.00M182.47 16.00V158.00M186.29 16.00V158.00M189.70 16.00V158.00M212.16 16.00V158.00M225.29 16.00V158.00M234.61 16.00V158.00M241.84 16.00V158.00M247.75 16.00V158.00M252.74 16.00V158.00M257.07 16.00V158.00M260.89 16.00V158.00M40.50 149.45H264.30M40.50 144.45H264.30M40.50 140.90H264.30M40.50 138.15H264.30M40.50 135.90H264.30M40.50 134.00H264.30M40.50 132.35H264.30M40.50 130.90H264.30M40.50 129.60H264.30M40.50 121.05H264.30M40.50 116.05H264.30M40.50 112.50H264.30M40.50 109.75H264.30M40.50 107.50H264.30M40.50 105.60H264.30M40.50 103.95H264.30M40.50 102.50H264.30M40.50 101.20H264.30M40.50 92.65H264.30M40.50 87.65H264.30M40.50 84.10H264.30M40.50 81.35H264.30M40.50 79.10H264.30M40.50 77.20H264.30M40.50 75.55H264.30M40.50 74.10H264.30M40.50 72.80H264.30M40.50 64.25H264.30M40.50 59.25H264.30M40.50 55.70H264.30M40.50 52.95H264.30M40.50 50.70H264.30M40.50 48.80H264.30M40.50 47.15H264.30M40.50 45.70H264.30M40.50 44.40H264.30M40.50 35.85H264.30M40.50 30.85H264.30M40.50 27.30H264.30M40.50 24.55H264.30M40.50 22.30H264.30M40.50 20.40H264.30M40.50 18.75H264.30M40.50 17.30H264.30M40.50 16.00H264.30M264.30 16.00V158.00" stroke="#cccccc" stroke-width="0.9" fill="none"/>
<path d="M40.50 158.00v-2M62.96 158.00v-2M76.09 158.00v-2M85.41 158.00v-2M92.64 158.00v-2M98.55 158.00v-2M103.54 158.00v-2M107.87 158.00v-2M111.69 158.00v-2M115.10 158.00v-2M137.56 158.00v-2M150.69 158.00v-2M160.01 158.00v-2M167.24 158.00v-2M173.15 158.00v-2M178.14 158.00v-2M182.47 158.00v-2M186.29 158.00v-2M189.70 158.00v-2M212.16 158.00v-2M225.29 158.00v-2M234.61 158.00v-2M241.84 158.00v-2M247.75 158.00v-2M252.74 158.00v-2M257.07 158.00v-2M260.89 158.00v-2M264.30 158.00v-2M40.50 158.00h2.2M40.50 149.45h2.2M40.50 144.45h2.2M40.50 140.90h2.2M40.50 138.15h2.2M40.50 135.90h2.2M40.50 134.00h2.2M40.50 132.35h2.2M40.50 130.90h2.2M40.50 129.60h2.2M40.50 121.05h2.2M40.50 116.05h2.2M40.50 112.50h2.2M40.50 109.75h2.2M40.50 107.50h2.2M40.50 105.60h2.2M40.50 103.95h2.2M40.50 102.50h2.2M40.50 101.20h2.2M40.50 92.65h2.2M40.50 87.65h2.2M40.50 84.10h2.2M40.50 81.35h2.2M40.50 79.10h2.2M40.50 77.20h2.2M40.50 75.55h2.2M40.50 74.10h2.2M40.50 72.80h2.2M40.50 64.25h2.2M40.50 59.25h2.2M40.50 55.70h2.2M40.50 52.95h2.2M40.50 50.70h2.2M40.50 48.80h2.2M40.50 47.15h2.2M40.50 45.70h2.2M40.50 44.40h2.2M40.50 35.85h2.2M40.50 30.85h2.2M40.50 27.30h2.2M40.50 24.55h2.2M40.50 22.30h2.2M40.50 20.40h2.2M40.50 18.75h2.2M40.50 17.30h2.2M40.50 16.00h2.2" stroke="#505050" stroke-width="0.9" fill="none"/>
<path d="M40.50 16.00V157.70H264.30" stroke="#555" stroke-width="1.05" fill="none" stroke-linejoin="round"/>
<path d="M62.3 67.7 63.0 68.1 63.8 68.5 64.5 68.8 65.3 69.2 66.0 69.6 66.8 70.0 67.5 70.3 68.3 70.7 69.0 71.1 69.8 71.5 70.5 71.8 71.3 72.2 72.0 72.5 72.8 72.9 73.5 73.2 74.3 73.5 75.0 73.9 75.8 74.2 76.5 74.5 77.3 74.9 78.0 75.2 78.8 75.5 79.5 75.9 80.3 76.2 81.0 76.4 81.8 76.6 82.5 76.9 83.3 77.1 84.0 77.3 84.8 77.5 85.5 77.7 86.3 77.9 87.0 78.2 87.8 78.4 88.5 78.5 89.3 78.6 90.0 78.6 90.8 78.7 91.5 78.7 92.3 78.8 93.0 78.8 93.8 78.8 94.5 78.9 95.3 78.9 96.0 79.0 96.8 79.3 97.5 79.7 98.3 80.1 99.0 80.5 99.8 80.8 100.5 81.2 101.3 81.9 102.0 82.6 102.8 83.4 103.5 84.2 104.3 84.9 105.0 85.5 105.8 86.1 106.5 86.7 107.3 87.3 108.0 87.2 108.8 86.8 109.5 86.4 110.3 86.1 111.0 85.5 111.8 84.8 112.5 84.1 113.3 83.3 114.0 82.6 114.8 82.1 115.5 81.7 116.3 81.4 117.0 81.0 117.8 80.6 118.5 80.3 119.3 79.9 120.0 79.4 120.8 79.0 121.5 78.6 122.3 78.2 123.0 77.9 123.8 77.5 124.5 77.1 125.3 76.8 126.0 76.6 126.8 76.5 127.5 76.3 128.3 76.1 129.1 75.9 129.8 75.7 130.6 75.6 131.3 75.4 132.1 75.2 132.8 75.0 133.6 74.8 134.3 74.6 135.1 74.3 135.8 73.3 136.6 72.4 137.3 71.4 138.1 70.4 138.8 69.4 139.6 69.0 140.3 68.6 141.1 68.2 141.8 68.9 142.6 70.0 143.3 71.1 144.1 72.3 144.8 73.4 145.6 74.6 146.3 75.7 147.1 77.1 147.8 78.6 148.6 80.0 149.3 81.3 150.1 82.6 150.8 83.4 151.6 84.2 152.3 83.4 153.1 82.0 153.8 80.5 154.6 82.2 155.3 82.5 156.1 83.8 156.8 84.4 157.6 85.4 158.3 85.8 159.1 86.4 159.8 84.5 160.6 83.3 161.3 82.6 162.1 84.7 162.8 85.1 163.6 87.9 164.3 87.8 165.1 89.9 165.8 89.6 166.6 88.0 167.3 87.4 168.1 88.5 168.8 87.5 169.6 88.6 170.3 84.4 171.1 86.7 171.8 85.7 172.6 87.4 173.3 86.7 174.1 86.8 174.8 85.7 175.6 88.0 176.3 89.1 177.1 92.4 177.8 93.3 178.6 96.6 179.3 97.0 180.1 101.8 180.8 101.4 181.6 102.7 182.3 101.8 183.1 103.3 183.8 103.4 184.6 104.3 185.3 103.9 186.1 108.5 186.8 104.1 187.6 105.6 188.3 108.1 189.1 106.9 189.8 106.9 190.6 108.8 191.3 108.1 192.1 114.0 192.8 109.9 193.6 113.1 194.3 110.1 195.1 114.1 195.8 115.1 196.6 114.6 197.3 117.1 198.1 116.6 198.8 113.7 199.6 116.9 200.3 120.0 201.1 116.6 201.8 116.1 202.6 122.0 203.3 116.9 204.1 122.3 204.8 118.4 205.6 123.2 206.3 124.7 207.1 122.1 207.8 126.3 208.6 122.7 209.3 122.4 210.1 124.4 210.8 128.5 211.6 128.5 212.3 125.2 213.1 128.1 213.8 126.5 214.6 131.9 215.3 127.3 216.1 133.1 216.8 134.7 217.6 130.9 218.3 135.2 219.1 132.3 219.8 131.2 220.6 133.5 221.3 136.4 222.1 135.1 222.8 134.0 223.6 135.6 224.3 138.7 225.0 148.0" stroke="#2b7cc6" stroke-width="1.6" fill="none" stroke-linejoin="round"/>
<path d="M62.3 80.2 63.0 80.2 63.8 80.2 64.5 80.2 65.3 80.3 66.0 80.3 66.8 80.3 67.5 80.3 68.3 80.3 69.0 80.4 69.8 80.4 70.5 80.4 71.3 80.4 72.0 80.4 72.8 80.4 73.5 80.5 74.3 80.5 75.0 80.5 75.8 80.5 76.5 80.5 77.3 80.6 78.0 80.6 78.8 80.6 79.5 80.6 80.3 80.6 81.0 80.7 81.8 80.7 82.5 80.7 83.3 80.8 84.0 81.0 84.8 81.1 85.5 81.3 86.3 81.4 87.0 81.5 87.8 81.7 88.5 81.8 89.3 82.0 90.0 82.1 90.8 82.2 91.5 82.4 92.3 82.6 93.0 82.8 93.8 83.0 94.5 83.1 95.3 83.3 96.0 83.5 96.8 83.7 97.5 83.9 98.3 84.1 99.0 84.3 99.8 84.6 100.5 84.9 101.3 85.2 102.0 85.5 102.8 85.8 103.5 86.0 104.3 86.3 105.0 86.6 105.8 86.9 106.5 87.1 107.3 87.4 108.0 87.4 108.8 87.2 109.5 87.0 110.3 86.8 111.0 86.6 111.8 86.4 112.5 86.3 113.3 86.2 114.0 86.1 114.8 86.0 115.5 85.9 116.3 85.8 117.0 86.0 117.8 86.2 118.5 86.5 119.3 86.8 120.0 86.9 120.8 85.9 121.5 84.9 122.3 83.9 123.0 82.9 123.8 81.9 124.5 81.2 125.3 80.4 126.0 79.7 126.8 78.9 127.5 78.2 128.3 77.7 129.1 77.2 129.8 76.7 130.6 76.2 131.3 75.8 132.1 75.3 132.8 75.3 133.6 75.9 134.3 76.5 135.1 77.1 135.8 77.8 136.6 78.0 137.3 77.2 138.1 76.5 138.8 75.7 139.6 74.9 140.3 74.8 141.1 76.3 141.8 77.8 142.6 79.3 143.3 78.9 144.1 78.4 144.8 77.9 145.6 77.4 146.3 76.9 147.1 78.1 147.8 79.4 148.6 80.6 149.3 81.9 150.1 83.1 150.8 85.3 151.6 86.7 152.3 88.4 153.1 90.0 153.8 91.3 154.6 91.9 155.3 92.7 156.1 91.8 156.8 91.0 157.6 90.6 158.3 88.1 159.1 88.3 159.8 90.0 160.6 94.2 161.3 96.2 162.1 106.7 162.8 102.7 163.6 98.1 164.3 96.6 165.1 93.4 165.8 94.1 166.6 93.9 167.3 92.6 168.1 92.7 168.8 92.2 169.6 93.4 170.3 95.7 171.1 94.7 171.8 94.9 172.6 98.9 173.3 96.0 174.1 98.4 174.8 99.7 175.6 101.9 176.3 100.7 177.1 105.5 177.8 104.3 178.6 109.8 179.3 110.3 180.1 110.8 180.8 111.0 181.6 109.6 182.3 111.3 183.1 106.3 183.8 107.0 184.6 106.1 185.3 103.6 186.1 105.9 186.8 105.7 187.6 110.7 188.3 108.7 189.1 107.7 189.8 107.6 190.6 109.8 191.3 115.1 192.1 114.6 192.8 112.8 193.6 114.6 194.3 118.5 195.1 115.8 195.8 114.6 196.6 121.8 197.3 119.7 198.1 120.3 198.8 120.7 199.6 126.3 200.3 117.8 201.1 119.9 201.8 119.7 202.6 121.3 203.3 125.9 204.1 122.9 204.8 121.3 205.6 123.3 206.3 128.7 207.1 124.5 207.8 124.8 208.6 126.8 209.3 126.1 210.1 128.3 210.8 132.7 211.6 134.9 212.3 129.5 213.1 131.8 213.8 135.1 214.6 133.6 215.3 132.4 216.1 135.6 216.8 134.2 217.6 137.1 218.3 135.3 219.1 137.9 219.8 136.7 220.6 138.7 221.3 144.1 222.1 144.4 222.8 141.6 223.6 143.8 224.3 152.2 224.5 147.0" stroke="#111111" stroke-width="1.6" fill="none" stroke-linejoin="round"/>
<path d="M62.3 65.2 63.0 65.2 63.8 65.1 64.5 65.0 65.3 65.0 66.0 65.0 66.8 64.9 67.5 64.8 68.3 64.8 69.0 64.8 69.8 64.7 70.5 64.6 71.3 64.6 72.0 64.5 72.8 64.5 73.5 64.4 74.3 64.4 75.0 64.3 75.8 64.3 76.5 64.2 77.3 64.2 78.0 64.1 78.8 64.1 79.5 64.0 80.3 64.0 81.0 63.9 81.8 63.9 82.5 63.8 83.3 63.9 84.0 63.9 84.8 64.0 85.5 64.1 86.3 64.1 87.0 64.2 87.8 64.3 88.5 64.4 89.3 64.6 90.0 64.9 90.8 65.1 91.5 65.3 92.3 65.5 93.0 65.7 93.8 66.0 94.5 66.2 95.3 66.4 96.0 66.6 96.8 66.8 97.5 67.0 98.3 67.2 99.0 67.4 99.8 67.5 100.5 67.4 101.3 67.4 102.0 67.4 102.8 67.3 103.5 67.3 104.3 67.2 105.0 67.2 105.8 67.1 106.5 66.9 107.3 66.8 108.0 66.6 108.8 66.4 109.5 66.3 110.3 66.1 111.0 66.0 111.8 66.0 112.5 66.0 113.3 66.0 114.0 66.0 114.8 66.0 115.5 65.8 116.3 65.6 117.0 65.3 117.8 65.1 118.5 64.9 119.3 64.9 120.0 65.5 120.8 64.8 121.5 64.0 122.3 63.3 123.0 62.5 123.8 61.8 124.5 61.3 125.3 60.7 126.0 60.2 126.8 59.6 127.5 59.1 128.3 59.1 129.1 59.2 129.8 59.2 130.6 59.3 131.3 59.3 132.1 59.7 132.8 60.1 133.6 60.5 134.3 61.5 135.1 62.8 135.8 64.1 136.6 64.7 137.3 63.7 138.1 62.8 138.8 61.8 139.6 61.1 140.3 60.4 141.1 61.0 141.8 63.2 142.6 65.5 143.3 66.7 144.1 67.8 144.8 68.9 145.6 70.3 146.3 71.8 147.1 73.3 147.8 74.7 148.6 75.8 149.3 77.0 150.1 78.1 150.8 78.2 151.6 77.5 152.3 76.8 153.1 77.9 153.8 78.2 154.6 79.4 155.3 80.3 156.1 81.2 156.8 81.2 157.6 80.1 158.3 79.4 159.1 79.5 159.8 81.0 160.6 81.1 161.3 82.2 162.1 82.0 162.8 80.6 163.6 78.8 164.3 72.7 165.1 70.7 165.8 67.4 166.6 65.3 167.3 61.9 168.1 60.2 168.8 58.2 169.6 58.0 170.3 57.0 171.1 58.8 171.8 59.4 172.6 59.5 173.3 59.7 174.1 60.4 174.8 60.5 175.6 65.3 176.3 63.6 177.1 68.9 177.8 69.8 178.6 71.5 179.3 70.4 180.1 72.5 180.8 75.2 181.6 80.6 182.3 76.4 183.1 77.9 183.8 78.5 184.6 83.3 185.3 85.2 186.1 82.1 186.8 81.2 187.6 84.6 188.3 81.2 189.1 82.4 189.8 81.9 190.6 81.7 191.3 80.3 192.1 81.5 192.8 79.6 193.6 80.3 194.3 78.9 195.1 81.9 195.8 81.0 196.6 84.3 197.3 85.2 198.1 88.2 198.8 87.4 199.6 90.3 200.3 94.5 201.1 90.9 201.8 94.8 202.6 90.6 203.3 92.4 204.1 90.4 204.8 93.7 205.6 92.8 206.3 89.7 207.1 92.8 207.8 96.4 208.6 93.6 209.3 97.8 210.1 95.4 210.8 101.8 211.6 98.0 212.3 97.4 213.1 99.9 213.8 99.7 214.6 101.1 215.3 105.0 216.1 102.2 216.8 106.3 217.6 106.0 218.3 103.1 219.1 109.1 219.8 109.7 220.6 107.5 221.3 112.1 222.1 107.5 222.8 106.8 223.6 109.9 224.3 108.8 224.9 111.4" stroke="#cc1c26" stroke-width="1.6" fill="none" stroke-linejoin="round"/>
<path d="M62.3 80.4 63.0 80.4 63.8 80.4 64.5 80.4 65.3 80.4 66.0 80.4 66.8 80.4 67.5 80.4 68.3 80.4 69.0 80.4 69.8 80.4 70.5 80.4 71.3 80.4 72.0 80.4 72.8 80.5 73.5 80.5 74.3 80.6 75.0 80.6 75.8 80.7 76.5 80.7 77.3 80.8 78.0 80.8 78.8 80.9 79.5 80.9 80.3 81.0 81.0 81.0 81.8 81.1 82.5 81.1 83.3 81.2 84.0 81.4 84.8 81.5 85.5 81.7 86.3 81.8 87.0 82.0 87.8 82.1 88.5 82.3 89.3 82.4 90.0 82.6 90.8 82.7 91.5 82.8 92.3 83.0 93.0 83.1 93.8 83.3 94.5 83.4 95.3 83.5 96.0 83.6 96.8 83.7 97.5 83.8 98.3 83.9 99.0 84.0 99.8 84.0 100.5 83.6 101.3 83.2 102.0 82.9 102.8 82.5 103.5 82.2 104.3 81.8 105.0 81.4 105.8 81.0 106.5 80.6 107.3 80.3 108.0 79.9 108.8 79.6 109.5 79.5 110.3 79.4 111.0 79.3 111.8 79.3 112.5 79.2 113.3 79.1 114.0 79.0 114.8 79.2 115.5 79.4 116.3 79.6 117.0 79.8 117.8 80.1 118.5 80.3 119.3 80.5 120.0 80.6 120.8 79.5 121.5 78.3 122.3 77.2 123.0 76.1 123.8 74.9 124.5 73.8 125.3 72.7 126.0 71.7 126.8 70.7 127.5 69.7 128.3 68.8 129.1 68.0 129.8 67.9 130.6 67.7 131.3 67.5 132.1 68.4 132.8 69.4 133.6 70.3 134.3 71.4 135.1 72.5 135.8 73.6 136.6 74.0 137.3 72.9 138.1 71.7 138.8 70.6 139.6 69.1 140.3 67.7 141.1 67.6 141.8 69.1 142.6 70.6 143.3 72.0 144.1 72.9 144.8 73.9 145.6 74.8 146.3 75.7 147.1 76.9 147.8 78.1 148.6 79.4 149.3 80.6 150.1 82.3 150.8 82.7 151.6 84.0 152.3 85.0 153.1 86.7 153.8 87.4 154.6 88.3 155.3 88.4 156.1 86.7 156.8 85.2 157.6 84.3 158.3 85.9 159.1 86.3 159.8 87.0 160.6 88.7 161.3 89.3 162.1 90.7 162.8 92.7 163.6 93.1 164.3 95.2 165.1 96.2 165.8 96.3 166.6 94.3 167.3 94.1 168.1 93.4 168.8 93.5 169.6 94.5 170.3 97.6 171.1 96.5 171.8 96.7 172.6 99.8 173.3 102.2 174.1 107.7 174.8 111.6 175.6 112.0 176.3 115.5 177.1 112.4 177.8 109.7 178.6 110.7 179.3 107.7 180.1 112.6 180.8 108.4 181.6 112.0 182.3 109.0 183.1 113.9 183.8 112.5 184.6 111.1 185.3 111.1 186.1 113.0 186.8 111.8 187.6 115.4 188.3 112.6 189.1 118.8 189.8 114.0 190.6 116.5 191.3 119.9 192.1 121.4 192.8 122.1 193.6 118.3 194.3 122.8 195.1 123.2 195.8 119.3 196.6 124.2 197.3 120.1 198.1 125.1 198.8 120.7 199.6 125.8 200.3 127.6 201.1 128.4 201.8 123.5 202.6 130.0 203.3 125.0 204.1 131.5 204.8 125.8 205.6 128.0 206.3 127.1 207.1 130.0 207.8 132.1 208.6 135.6 209.3 130.7 210.1 132.5 210.8 136.1 211.6 136.9 212.3 136.9 213.1 134.9 213.8 134.1 214.6 135.6 215.3 135.0 216.1 140.5 216.8 135.3 217.6 137.8 218.3 141.0 219.1 138.7 219.8 142.5 220.6 140.4 221.3 139.8 222.1 142.8 222.8 147.5 223.6 149.8 224.0 148.0" stroke="#111111" stroke-width="1.6" fill="none" stroke-linejoin="round" stroke-dasharray="2.4 1.3"/>
<path d="M62.3 68.0 63.0 68.1 63.8 68.2 64.5 68.2 65.3 68.3 66.0 68.4 66.8 68.5 67.5 68.5 68.3 68.6 69.0 68.7 69.8 68.8 70.5 68.8 71.3 68.9 72.0 69.0 72.8 69.1 73.5 69.2 74.3 69.4 75.0 69.5 75.8 69.6 76.5 69.7 77.3 69.8 78.0 69.9 78.8 70.0 79.5 70.1 80.3 70.3 81.0 70.4 81.8 70.5 82.5 70.6 83.3 70.8 84.0 71.0 84.8 71.1 85.5 71.3 86.3 71.5 87.0 71.7 87.8 71.9 88.5 72.1 89.3 72.2 90.0 72.4 90.8 72.6 91.5 72.8 92.3 73.0 93.0 73.2 93.8 73.5 94.5 73.7 95.3 73.9 96.0 74.1 96.8 74.4 97.5 74.4 98.3 74.0 99.0 73.6 99.8 73.2 100.5 72.8 101.3 72.5 102.0 72.0 102.8 71.2 103.5 70.5 104.3 69.8 105.0 69.0 105.8 68.6 106.5 68.2 107.3 67.8 108.0 67.4 108.8 67.1 109.5 66.7 110.3 66.5 111.0 66.3 111.8 66.1 112.5 65.9 113.3 65.7 114.0 65.5 114.8 65.6 115.5 65.8 116.3 66.0 117.0 66.2 117.8 66.4 118.5 66.6 119.3 66.7 120.0 66.9 120.8 66.4 121.5 65.9 122.3 65.4 123.0 64.9 123.8 64.4 124.5 64.0 125.3 63.6 126.0 63.2 126.8 62.8 127.5 62.5 128.3 62.1 129.1 61.9 129.8 62.2 130.6 62.4 131.3 62.7 132.1 62.9 132.8 63.5 133.6 64.5 134.3 65.5 135.1 66.5 135.8 67.4 136.6 68.0 137.3 67.6 138.1 67.3 138.8 66.9 139.6 66.5 140.3 66.1 141.1 65.7 141.8 66.4 142.6 67.5 143.3 68.6 144.1 69.8 144.8 70.9 145.6 72.0 146.3 73.1 147.1 74.2 147.8 75.3 148.6 76.4 149.3 77.7 150.1 79.4 150.8 80.9 151.6 81.9 152.3 83.4 153.1 83.5 153.8 85.0 154.6 85.0 155.3 86.4 156.1 87.3 156.8 87.7 157.6 87.4 158.3 87.3 159.1 87.9 159.8 87.3 160.6 87.9 161.3 87.4 162.1 85.7 162.8 82.8 163.6 82.1 164.3 80.3 165.1 78.1 165.8 76.4 166.6 74.7 167.3 73.1 168.1 73.2 168.8 72.6 169.6 70.0 170.3 68.4 171.1 69.5 171.8 66.9 172.6 68.2 173.3 68.1 174.1 70.4 174.8 73.8 175.6 72.1 176.3 75.0 177.1 74.4 177.8 74.8 178.6 78.3 179.3 80.0 180.1 81.5 180.8 85.0 181.6 84.8 182.3 85.5 183.1 88.0 183.8 88.2 184.6 89.1 185.3 91.9 186.1 89.8 186.8 87.4 187.6 91.4 188.3 92.5 189.1 90.7 189.8 93.6 190.6 90.9 191.3 90.2 192.1 92.6 192.8 91.3 193.6 93.7 194.3 97.5 195.1 96.4 195.8 95.3 196.6 96.8 197.3 99.6 198.1 99.0 198.8 103.0 199.6 102.2 200.3 98.0 201.1 99.6 201.8 98.9 202.6 101.9 203.3 103.9 204.1 105.6 204.8 105.3 205.6 104.5 206.3 103.6 207.1 105.6 207.8 105.1 208.6 105.9 209.3 105.3 210.1 108.0 210.8 112.4 211.6 111.0 212.3 108.0 213.1 110.3 213.8 114.0 214.6 113.8 215.3 113.8 216.1 111.7 216.8 111.4 217.6 112.5 218.3 112.1 219.1 114.7 219.8 113.3 220.6 115.6 221.3 120.3 222.1 116.9 222.8 117.1 223.6 124.1 224.1 121.0" stroke="#cc1c26" stroke-width="1.6" fill="none" stroke-linejoin="round" stroke-dasharray="2.4 1.3"/>
<rect x="44.5" y="11.5" width="220" height="39" fill="#fff" stroke="#a6a6a6" stroke-width="0.9"/>
<path d="M49 18.4h16.5" stroke="#2b7cc6" stroke-width="1.5"/>
<text x="67.1" y="20.299999999999997" font-size="6.4" font-weight="bold" textLength="84.3" lengthAdjust="spacingAndGlyphs">X:115cm, Uw:0m/s, 0.5hr(type-B)</text>
<path d="M49 31.4h16.5" stroke="#cc1c26" stroke-width="1.5"/>
<text x="67.1" y="33.3" font-size="6.4" font-weight="bold" textLength="61.5" lengthAdjust="spacingAndGlyphs">X:115cm, Uw:0m/s, 4.5hr</text>
<path d="M49 44.4h16.5" stroke="#cc1c26" stroke-width="1.5" stroke-dasharray="2.2 1.3"/>
<text x="67.1" y="46.3" font-size="6.4" font-weight="bold" textLength="61.5" lengthAdjust="spacingAndGlyphs">X:115cm, Uw:8m/s, 4.5hr</text>
<path d="M159 18.4h16.5" stroke="#111" stroke-width="1.1"/>
<text x="177.1" y="20.299999999999997" font-size="6.4" font-weight="bold" textLength="60.6" lengthAdjust="spacingAndGlyphs">X:85cm, Uw:0m/s, 4.5hr</text>
<path d="M159 31.4h16.5" stroke="#111" stroke-width="1.1" stroke-dasharray="2.2 1.3"/>
<text x="177.1" y="33.3" font-size="6.4" font-weight="bold" textLength="60.6" lengthAdjust="spacingAndGlyphs">X:85cm, Uw:8m/s, 4.5hr</text>
<text x="33.9" y="160.00" font-size="7.4" font-weight="bold" style="stroke:none" text-anchor="end">0.001</text>
<text x="33.9" y="131.60" font-size="7.4" font-weight="bold" style="stroke:none" text-anchor="end">0.01</text>
<text x="33.9" y="103.20" font-size="7.4" font-weight="bold" style="stroke:none" text-anchor="end">0.1</text>
<text x="33.9" y="74.80" font-size="7.4" font-weight="bold" style="stroke:none" text-anchor="end">1</text>
<text x="33.9" y="46.40" font-size="7.4" font-weight="bold" style="stroke:none" text-anchor="end">10</text>
<text x="33.9" y="18.00" font-size="7.4" font-weight="bold" style="stroke:none" text-anchor="end">100</text>
<text x="40.50" y="170.4" font-size="7.4" font-weight="bold" style="stroke:none" text-anchor="middle">0.01</text>
<text x="115.10" y="170.4" font-size="7.4" font-weight="bold" style="stroke:none" text-anchor="middle">0.1</text>
<text x="189.70" y="170.4" font-size="7.4" font-weight="bold" style="stroke:none" text-anchor="middle">1</text>
<text x="264.30" y="170.4" font-size="7.4" font-weight="bold" style="stroke:none" text-anchor="middle">10</text>
<text x="152.6" y="181.5" font-size="7.9" font-weight="bold" text-anchor="middle" textLength="52.8" lengthAdjust="spacingAndGlyphs">Frequency(Hz)</text>
<text transform="translate(15,88.7) rotate(-90)" font-size="7.6" font-weight="bold" text-anchor="middle" textLength="45" lengthAdjust="spacingAndGlyphs">S(f)·(cm²/Hz)</text>
<text class="cap" x="138.5" y="198.2" font-size="10.4" font-weight="bold" text-anchor="middle">(d)</text>
</g>
</svg>
</body></html>
